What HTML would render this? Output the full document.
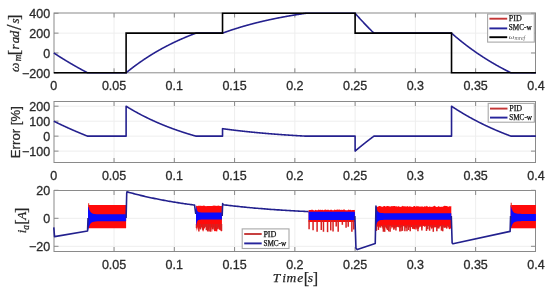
<!DOCTYPE html><html><head><meta charset="utf-8"><style>html,body{margin:0;padding:0;background:#fff;overflow:hidden}svg{display:block;filter:blur(0.3px)}</style></head><body><svg width="550" height="291" viewBox="0 0 550 291">
<rect width="550" height="291" fill="#fff"/>
<style>.tk{font-family:"Liberation Sans",Arial,sans-serif;font-size:12.5px;fill:#2b2b2b;stroke:#2b2b2b;stroke-width:0.3px}.lg{font-family:"Liberation Serif",serif;font-size:7.2px;fill:#151515;stroke:#151515;stroke-width:0.25px}.lx{font-family:"Liberation Serif",serif;font-size:13.7px;fill:#262626;stroke:#262626;stroke-width:0.25px}.ly{font-family:"Liberation Sans",Arial,sans-serif;font-size:13px;fill:#2b2b2b;stroke:#2b2b2b;stroke-width:0.25px}</style>
<line x1="114.06" y1="13" x2="114.06" y2="72.8" stroke="#eeeeee" stroke-width="1"/>
<line x1="174.32" y1="13" x2="174.32" y2="72.8" stroke="#eeeeee" stroke-width="1"/>
<line x1="234.59" y1="13" x2="234.59" y2="72.8" stroke="#eeeeee" stroke-width="1"/>
<line x1="294.85" y1="13" x2="294.85" y2="72.8" stroke="#eeeeee" stroke-width="1"/>
<line x1="355.11" y1="13" x2="355.11" y2="72.8" stroke="#eeeeee" stroke-width="1"/>
<line x1="415.38" y1="13" x2="415.38" y2="72.8" stroke="#eeeeee" stroke-width="1"/>
<line x1="475.64" y1="13" x2="475.64" y2="72.8" stroke="#eeeeee" stroke-width="1"/>
<line x1="54" y1="33.13" x2="535.5" y2="33.13" stroke="#eeeeee" stroke-width="1"/>
<line x1="54" y1="52.97" x2="535.5" y2="52.97" stroke="#eeeeee" stroke-width="1"/>
<rect x="54" y="13" width="481.5" height="59.8" fill="none" stroke="#8a8a8a" stroke-width="1"/>
<line x1="114.06" y1="72.8" x2="114.06" y2="68.3" stroke="#8a8a8a"/>
<line x1="114.06" y1="13" x2="114.06" y2="17.5" stroke="#8a8a8a"/>
<line x1="174.32" y1="72.8" x2="174.32" y2="68.3" stroke="#8a8a8a"/>
<line x1="174.32" y1="13" x2="174.32" y2="17.5" stroke="#8a8a8a"/>
<line x1="234.59" y1="72.8" x2="234.59" y2="68.3" stroke="#8a8a8a"/>
<line x1="234.59" y1="13" x2="234.59" y2="17.5" stroke="#8a8a8a"/>
<line x1="294.85" y1="72.8" x2="294.85" y2="68.3" stroke="#8a8a8a"/>
<line x1="294.85" y1="13" x2="294.85" y2="17.5" stroke="#8a8a8a"/>
<line x1="355.11" y1="72.8" x2="355.11" y2="68.3" stroke="#8a8a8a"/>
<line x1="355.11" y1="13" x2="355.11" y2="17.5" stroke="#8a8a8a"/>
<line x1="415.38" y1="72.8" x2="415.38" y2="68.3" stroke="#8a8a8a"/>
<line x1="415.38" y1="13" x2="415.38" y2="17.5" stroke="#8a8a8a"/>
<line x1="475.64" y1="72.8" x2="475.64" y2="68.3" stroke="#8a8a8a"/>
<line x1="475.64" y1="13" x2="475.64" y2="17.5" stroke="#8a8a8a"/>
<line x1="54" y1="13.3" x2="58.5" y2="13.3" stroke="#8a8a8a"/>
<line x1="535.5" y1="13.3" x2="531" y2="13.3" stroke="#8a8a8a"/>
<line x1="54" y1="33.13" x2="58.5" y2="33.13" stroke="#8a8a8a"/>
<line x1="535.5" y1="33.13" x2="531" y2="33.13" stroke="#8a8a8a"/>
<line x1="54" y1="52.97" x2="58.5" y2="52.97" stroke="#8a8a8a"/>
<line x1="535.5" y1="52.97" x2="531" y2="52.97" stroke="#8a8a8a"/>
<line x1="54" y1="72.8" x2="58.5" y2="72.8" stroke="#8a8a8a"/>
<line x1="535.5" y1="72.8" x2="531" y2="72.8" stroke="#8a8a8a"/>
<polyline points="53.8,52.97 54.04,53.12 54.28,53.28 54.52,53.44 54.76,53.6 55.01,53.75 55.25,53.91 55.49,54.07 55.73,54.22 55.97,54.38 56.21,54.53 56.45,54.69 56.69,54.85 56.93,55 57.17,55.16 57.42,55.31 57.66,55.46 57.9,55.62 58.14,55.77 58.38,55.93 58.62,56.08 58.86,56.23 59.1,56.38 59.34,56.54 59.59,56.69 59.83,56.84 60.07,56.99 60.31,57.14 60.55,57.3 60.79,57.45 61.03,57.6 61.27,57.75 61.51,57.9 61.75,58.05 62,58.2 62.24,58.35 62.48,58.5 62.72,58.65 62.96,58.8 63.2,58.94 63.44,59.09 63.68,59.24 63.92,59.39 64.17,59.54 64.41,59.68 64.65,59.83 64.89,59.98 65.13,60.12 65.37,60.27 65.61,60.42 65.85,60.56 66.09,60.71 66.33,60.85 66.58,61 66.82,61.15 67.06,61.29 67.3,61.44 67.54,61.58 67.78,61.72 68.02,61.87 68.26,62.01 68.5,62.16 68.75,62.3 68.99,62.44 69.23,62.58 69.47,62.73 69.71,62.87 69.95,63.01 70.19,63.15 70.43,63.3 70.67,63.44 70.91,63.58 71.16,63.72 71.4,63.86 71.64,64 71.88,64.14 72.12,64.28 72.36,64.42 72.6,64.56 72.84,64.7 73.08,64.84 73.33,64.98 73.57,65.12 73.81,65.26 74.05,65.39 74.29,65.53 74.53,65.67 74.77,65.81 75.01,65.95 75.25,66.08 75.49,66.22 75.74,66.36 75.98,66.49 76.22,66.63 76.46,66.77 76.7,66.9 76.94,67.04 77.18,67.17 77.42,67.31 77.66,67.44 77.91,67.58 78.15,67.71 78.39,67.85 78.63,67.98 78.87,68.12 79.11,68.25 79.35,68.38 79.59,68.52 79.83,68.65 80.07,68.78 80.32,68.92 80.56,69.05 80.8,69.18 81.04,69.31 81.28,69.44 81.52,69.58 81.76,69.71 82,69.84 82.24,69.97 82.48,70.1 82.73,70.23 82.97,70.36 83.21,70.49 83.45,70.62 83.69,70.75 83.93,70.88 84.17,71.01 84.41,71.14 84.65,71.27 84.9,71.4 85.14,71.53 85.38,71.66 85.62,71.78 85.86,71.91 86.1,72.04 86.34,72.17 86.58,72.29 86.82,72.42 87.06,72.55 87.31,72.67 87.55,72.8 87.79,72.8 88.03,72.8 88.27,72.8 88.51,72.8 88.75,72.8 88.99,72.8 89.23,72.8 89.48,72.8 89.72,72.8 89.96,72.8 90.2,72.8 90.44,72.8 90.68,72.8 90.92,72.8 91.16,72.8 91.4,72.8 91.64,72.8 91.89,72.8 92.13,72.8 92.37,72.8 92.61,72.8 92.85,72.8 93.09,72.8 93.33,72.8 93.57,72.8 93.81,72.8 94.06,72.8 94.3,72.8 94.54,72.8 94.78,72.8 95.02,72.8 95.26,72.8 95.5,72.8 95.74,72.8 95.98,72.8 96.22,72.8 96.47,72.8 96.71,72.8 96.95,72.8 97.19,72.8 97.43,72.8 97.67,72.8 97.91,72.8 98.15,72.8 98.39,72.8 98.64,72.8 98.88,72.8 99.12,72.8 99.36,72.8 99.6,72.8 99.84,72.8 100.08,72.8 100.32,72.8 100.56,72.8 100.8,72.8 101.05,72.8 101.29,72.8 101.53,72.8 101.77,72.8 102.01,72.8 102.25,72.8 102.49,72.8 102.73,72.8 102.97,72.8 103.22,72.8 103.46,72.8 103.7,72.8 103.94,72.8 104.18,72.8 104.42,72.8 104.66,72.8 104.9,72.8 105.14,72.8 105.38,72.8 105.63,72.8 105.87,72.8 106.11,72.8 106.35,72.8 106.59,72.8 106.83,72.8 107.07,72.8 107.31,72.8 107.55,72.8 107.8,72.8 108.04,72.8 108.28,72.8 108.52,72.8 108.76,72.8 109,72.8 109.24,72.8 109.48,72.8 109.72,72.8 109.96,72.8 110.21,72.8 110.45,72.8 110.69,72.8 110.93,72.8 111.17,72.8 111.41,72.8 111.65,72.8 111.89,72.8 112.13,72.8 112.38,72.8 112.62,72.8 112.86,72.8 113.1,72.8 113.34,72.8 113.58,72.8 113.82,72.8 114.06,72.8 114.3,72.8 114.54,72.8 114.79,72.8 115.03,72.8 115.27,72.8 115.51,72.8 115.75,72.8 115.99,72.8 116.23,72.8 116.47,72.8 116.71,72.8 116.96,72.8 117.2,72.8 117.44,72.8 117.68,72.8 117.92,72.8 118.16,72.8 118.4,72.8 118.64,72.8 118.88,72.8 119.12,72.8 119.37,72.8 119.61,72.8 119.85,72.8 120.09,72.8 120.33,72.8 120.57,72.8 120.81,72.8 121.05,72.8 121.29,72.8 121.54,72.8 121.78,72.8 122.02,72.8 122.26,72.8 122.5,72.8 122.74,72.8 122.98,72.8 123.22,72.8 123.46,72.8 123.7,72.8 123.95,72.8 124.19,72.8 124.43,72.8 124.67,72.8 124.91,72.8 125.15,72.8 125.39,72.8 125.63,72.8 125.87,72.8 126.11,72.8 126.36,72.6 126.6,72.4 126.84,72.21 127.08,72.01 127.32,71.81 127.56,71.62 127.8,71.42 128.04,71.23 128.28,71.04 128.53,70.84 128.77,70.65 129.01,70.46 129.25,70.27 129.49,70.08 129.73,69.89 129.97,69.69 130.21,69.51 130.45,69.32 130.69,69.13 130.94,68.94 131.18,68.75 131.42,68.57 131.66,68.38 131.9,68.19 132.14,68.01 132.38,67.82 132.62,67.64 132.86,67.45 133.11,67.27 133.35,67.09 133.59,66.9 133.83,66.72 134.07,66.54 134.31,66.36 134.55,66.18 134.79,66 135.03,65.82 135.27,65.64 135.52,65.46 135.76,65.29 136,65.11 136.24,64.93 136.48,64.75 136.72,64.58 136.96,64.4 137.2,64.23 137.44,64.05 137.69,63.88 137.93,63.7 138.17,63.53 138.41,63.36 138.65,63.19 138.89,63.01 139.13,62.84 139.37,62.67 139.61,62.5 139.85,62.33 140.1,62.16 140.34,61.99 140.58,61.83 140.82,61.66 141.06,61.49 141.3,61.32 141.54,61.16 141.78,60.99 142.02,60.82 142.27,60.66 142.51,60.49 142.75,60.33 142.99,60.17 143.23,60 143.47,59.84 143.71,59.68 143.95,59.51 144.19,59.35 144.43,59.19 144.68,59.03 144.92,58.87 145.16,58.71 145.4,58.55 145.64,58.39 145.88,58.23 146.12,58.07 146.36,57.92 146.6,57.76 146.85,57.6 147.09,57.45 147.33,57.29 147.57,57.13 147.81,56.98 148.05,56.82 148.29,56.67 148.53,56.52 148.77,56.36 149.01,56.21 149.26,56.06 149.5,55.9 149.74,55.75 149.98,55.6 150.22,55.45 150.46,55.3 150.7,55.15 150.94,55 151.18,54.85 151.43,54.7 151.67,54.55 151.91,54.4 152.15,54.26 152.39,54.11 152.63,53.96 152.87,53.82 153.11,53.67 153.35,53.52 153.59,53.38 153.84,53.23 154.08,53.09 154.32,52.94 154.56,52.8 154.8,52.66 155.04,52.51 155.28,52.37 155.52,52.23 155.76,52.09 156.01,51.95 156.25,51.81 156.49,51.67 156.73,51.53 156.97,51.39 157.21,51.25 157.45,51.11 157.69,50.97 157.93,50.83 158.17,50.69 158.42,50.55 158.66,50.42 158.9,50.28 159.14,50.14 159.38,50.01 159.62,49.87 159.86,49.74 160.1,49.6 160.34,49.47 160.59,49.33 160.83,49.2 161.07,49.07 161.31,48.93 161.55,48.8 161.79,48.67 162.03,48.53 162.27,48.4 162.51,48.27 162.75,48.14 163,48.01 163.24,47.88 163.48,47.75 163.72,47.62 163.96,47.49 164.2,47.36 164.44,47.23 164.68,47.11 164.92,46.98 165.17,46.85 165.41,46.72 165.65,46.6 165.89,46.47 166.13,46.34 166.37,46.22 166.61,46.09 166.85,45.97 167.09,45.84 167.33,45.72 167.58,45.6 167.82,45.47 168.06,45.35 168.3,45.23 168.54,45.1 168.78,44.98 169.02,44.86 169.26,44.74 169.5,44.62 169.75,44.49 169.99,44.37 170.23,44.25 170.47,44.13 170.71,44.01 170.95,43.89 171.19,43.78 171.43,43.66 171.67,43.54 171.91,43.42 172.16,43.3 172.4,43.19 172.64,43.07 172.88,42.95 173.12,42.84 173.36,42.72 173.6,42.6 173.84,42.49 174.08,42.37 174.32,42.26 174.57,42.14 174.81,42.03 175.05,41.92 175.29,41.8 175.53,41.69 175.77,41.58 176.01,41.46 176.25,41.35 176.49,41.24 176.74,41.13 176.98,41.02 177.22,40.9 177.46,40.79 177.7,40.68 177.94,40.57 178.18,40.46 178.42,40.35 178.66,40.24 178.9,40.14 179.15,40.03 179.39,39.92 179.63,39.81 179.87,39.7 180.11,39.59 180.35,39.49 180.59,39.38 180.83,39.27 181.07,39.17 181.32,39.06 181.56,38.96 181.8,38.85 182.04,38.75 182.28,38.64 182.52,38.54 182.76,38.43 183,38.33 183.24,38.22 183.48,38.12 183.73,38.02 183.97,37.91 184.21,37.81 184.45,37.71 184.69,37.61 184.93,37.51 185.17,37.4 185.41,37.3 185.65,37.2 185.9,37.1 186.14,37 186.38,36.9 186.62,36.8 186.86,36.7 187.1,36.6 187.34,36.5 187.58,36.4 187.82,36.31 188.06,36.21 188.31,36.11 188.55,36.01 188.79,35.91 189.03,35.82 189.27,35.72 189.51,35.62 189.75,35.53 189.99,35.43 190.23,35.34 190.48,35.24 190.72,35.14 190.96,35.05 191.2,34.95 191.44,34.86 191.68,34.77 191.92,34.67 192.16,34.58 192.4,34.48 192.64,34.39 192.89,34.3 193.13,34.21 193.37,34.11 193.61,34.02 193.85,33.93 194.09,33.84 194.33,33.75 194.57,33.65 194.81,33.56 195.06,33.47 195.3,33.38 195.54,33.29 195.78,33.2 196.02,33.13 196.26,33.13 196.5,33.13 196.74,33.13 196.98,33.13 197.22,33.13 197.47,33.13 197.71,33.13 197.95,33.13 198.19,33.13 198.43,33.13 198.67,33.13 198.91,33.13 199.15,33.13 199.39,33.13 199.64,33.13 199.88,33.13 200.12,33.13 200.36,33.13 200.6,33.13 200.84,33.13 201.08,33.13 201.32,33.13 201.56,33.13 201.8,33.13 202.05,33.13 202.29,33.13 202.53,33.13 202.77,33.13 203.01,33.13 203.25,33.13 203.49,33.13 203.73,33.13 203.97,33.13 204.22,33.13 204.46,33.13 204.7,33.13 204.94,33.13 205.18,33.13 205.42,33.13 205.66,33.13 205.9,33.13 206.14,33.13 206.38,33.13 206.63,33.13 206.87,33.13 207.11,33.13 207.35,33.13 207.59,33.13 207.83,33.13 208.07,33.13 208.31,33.13 208.55,33.13 208.8,33.13 209.04,33.13 209.28,33.13 209.52,33.13 209.76,33.13 210,33.13 210.24,33.13 210.48,33.13 210.72,33.13 210.96,33.13 211.21,33.13 211.45,33.13 211.69,33.13 211.93,33.13 212.17,33.13 212.41,33.13 212.65,33.13 212.89,33.13 213.13,33.13 213.38,33.13 213.62,33.13 213.86,33.13 214.1,33.13 214.34,33.13 214.58,33.13 214.82,33.13 215.06,33.13 215.3,33.13 215.54,33.13 215.79,33.13 216.03,33.13 216.27,33.13 216.51,33.13 216.75,33.13 216.99,33.13 217.23,33.13 217.47,33.13 217.71,33.13 217.96,33.13 218.2,33.13 218.44,33.13 218.68,33.13 218.92,33.13 219.16,33.13 219.4,33.13 219.64,33.13 219.88,33.13 220.12,33.13 220.37,33.13 220.61,33.13 220.85,33.13 221.09,33.13 221.33,33.13 221.57,33.13 221.81,33.13 222.05,33.13 222.29,33.13 222.53,33.13 222.78,33.05 223.02,32.96 223.26,32.87 223.5,32.78 223.74,32.69 223.98,32.61 224.22,32.52 224.46,32.43 224.7,32.35 224.95,32.26 225.19,32.18 225.43,32.09 225.67,32 225.91,31.92 226.15,31.83 226.39,31.75 226.63,31.67 226.87,31.58 227.11,31.5 227.36,31.41 227.6,31.33 227.84,31.25 228.08,31.16 228.32,31.08 228.56,31 228.8,30.91 229.04,30.83 229.28,30.75 229.53,30.67 229.77,30.59 230.01,30.51 230.25,30.42 230.49,30.34 230.73,30.26 230.97,30.18 231.21,30.1 231.45,30.02 231.69,29.94 231.94,29.86 232.18,29.78 232.42,29.7 232.66,29.62 232.9,29.55 233.14,29.47 233.38,29.39 233.62,29.31 233.86,29.23 234.11,29.16 234.35,29.08 234.59,29 234.83,28.92 235.07,28.85 235.31,28.77 235.55,28.69 235.79,28.62 236.03,28.54 236.27,28.47 236.52,28.39 236.76,28.31 237,28.24 237.24,28.16 237.48,28.09 237.72,28.01 237.96,27.94 238.2,27.87 238.44,27.79 238.69,27.72 238.93,27.64 239.17,27.57 239.41,27.5 239.65,27.42 239.89,27.35 240.13,27.28 240.37,27.21 240.61,27.13 240.85,27.06 241.1,26.99 241.34,26.92 241.58,26.85 241.82,26.78 242.06,26.7 242.3,26.63 242.54,26.56 242.78,26.49 243.02,26.42 243.27,26.35 243.51,26.28 243.75,26.21 243.99,26.14 244.23,26.07 244.47,26 244.71,25.94 244.95,25.87 245.19,25.8 245.43,25.73 245.68,25.66 245.92,25.59 246.16,25.53 246.4,25.46 246.64,25.39 246.88,25.32 247.12,25.26 247.36,25.19 247.6,25.12 247.85,25.05 248.09,24.99 248.33,24.92 248.57,24.86 248.81,24.79 249.05,24.72 249.29,24.66 249.53,24.59 249.77,24.53 250.01,24.46 250.26,24.4 250.5,24.33 250.74,24.27 250.98,24.2 251.22,24.14 251.46,24.08 251.7,24.01 251.94,23.95 252.18,23.89 252.43,23.82 252.67,23.76 252.91,23.7 253.15,23.63 253.39,23.57 253.63,23.51 253.87,23.45 254.11,23.38 254.35,23.32 254.59,23.26 254.84,23.2 255.08,23.14 255.32,23.08 255.56,23.01 255.8,22.95 256.04,22.89 256.28,22.83 256.52,22.77 256.76,22.71 257.01,22.65 257.25,22.59 257.49,22.53 257.73,22.47 257.97,22.41 258.21,22.35 258.45,22.29 258.69,22.24 258.93,22.18 259.17,22.12 259.42,22.06 259.66,22 259.9,21.94 260.14,21.88 260.38,21.83 260.62,21.77 260.86,21.71 261.1,21.65 261.34,21.6 261.59,21.54 261.83,21.48 262.07,21.43 262.31,21.37 262.55,21.31 262.79,21.26 263.03,21.2 263.27,21.14 263.51,21.09 263.75,21.03 264,20.98 264.24,20.92 264.48,20.87 264.72,20.81 264.96,20.76 265.2,20.7 265.44,20.65 265.68,20.59 265.92,20.54 266.17,20.48 266.41,20.43 266.65,20.37 266.89,20.32 267.13,20.27 267.37,20.21 267.61,20.16 267.85,20.11 268.09,20.05 268.33,20 268.58,19.95 268.82,19.9 269.06,19.84 269.3,19.79 269.54,19.74 269.78,19.69 270.02,19.63 270.26,19.58 270.5,19.53 270.74,19.48 270.99,19.43 271.23,19.38 271.47,19.32 271.71,19.27 271.95,19.22 272.19,19.17 272.43,19.12 272.67,19.07 272.91,19.02 273.16,18.97 273.4,18.92 273.64,18.87 273.88,18.82 274.12,18.77 274.36,18.72 274.6,18.67 274.84,18.62 275.08,18.57 275.32,18.53 275.57,18.48 275.81,18.43 276.05,18.38 276.29,18.33 276.53,18.28 276.77,18.23 277.01,18.19 277.25,18.14 277.49,18.09 277.74,18.04 277.98,17.99 278.22,17.95 278.46,17.9 278.7,17.85 278.94,17.81 279.18,17.76 279.42,17.71 279.66,17.67 279.9,17.62 280.15,17.57 280.39,17.53 280.63,17.48 280.87,17.43 281.11,17.39 281.35,17.34 281.59,17.3 281.83,17.25 282.07,17.21 282.32,17.16 282.56,17.12 282.8,17.07 283.04,17.03 283.28,16.98 283.52,16.94 283.76,16.89 284,16.85 284.24,16.8 284.48,16.76 284.73,16.71 284.97,16.67 285.21,16.63 285.45,16.58 285.69,16.54 285.93,16.5 286.17,16.45 286.41,16.41 286.65,16.37 286.9,16.32 287.14,16.28 287.38,16.24 287.62,16.19 287.86,16.15 288.1,16.11 288.34,16.07 288.58,16.03 288.82,15.98 289.06,15.94 289.31,15.9 289.55,15.86 289.79,15.82 290.03,15.77 290.27,15.73 290.51,15.69 290.75,15.65 290.99,15.61 291.23,15.57 291.48,15.53 291.72,15.49 291.96,15.45 292.2,15.41 292.44,15.36 292.68,15.32 292.92,15.28 293.16,15.24 293.4,15.2 293.64,15.16 293.89,15.12 294.13,15.08 294.37,15.05 294.61,15.01 294.85,14.97 295.09,14.93 295.33,14.89 295.57,14.85 295.81,14.81 296.06,14.77 296.3,14.73 296.54,14.69 296.78,14.66 297.02,14.62 297.26,14.58 297.5,14.54 297.74,14.5 297.98,14.46 298.22,14.43 298.47,14.39 298.71,14.35 298.95,14.31 299.19,14.28 299.43,14.24 299.67,14.2 299.91,14.16 300.15,14.13 300.39,14.09 300.64,14.05 300.88,14.02 301.12,13.98 301.36,13.94 301.6,13.91 301.84,13.87 302.08,13.83 302.32,13.8 302.56,13.76 302.8,13.73 303.05,13.69 303.29,13.65 303.53,13.62 303.77,13.58 304.01,13.55 304.25,13.51 304.49,13.48 304.73,13.44 304.97,13.41 305.22,13.37 305.46,13.34 305.7,13.3 305.94,13.3 306.18,13.3 306.42,13.3 306.66,13.3 306.9,13.3 307.14,13.3 307.38,13.3 307.63,13.3 307.87,13.3 308.11,13.3 308.35,13.3 308.59,13.3 308.83,13.3 309.07,13.3 309.31,13.3 309.55,13.3 309.8,13.3 310.04,13.3 310.28,13.3 310.52,13.3 310.76,13.3 311,13.3 311.24,13.3 311.48,13.3 311.72,13.3 311.96,13.3 312.21,13.3 312.45,13.3 312.69,13.3 312.93,13.3 313.17,13.3 313.41,13.3 313.65,13.3 313.89,13.3 314.13,13.3 314.38,13.3 314.62,13.3 314.86,13.3 315.1,13.3 315.34,13.3 315.58,13.3 315.82,13.3 316.06,13.3 316.3,13.3 316.54,13.3 316.79,13.3 317.03,13.3 317.27,13.3 317.51,13.3 317.75,13.3 317.99,13.3 318.23,13.3 318.47,13.3 318.71,13.3 318.95,13.3 319.2,13.3 319.44,13.3 319.68,13.3 319.92,13.3 320.16,13.3 320.4,13.3 320.64,13.3 320.88,13.3 321.12,13.3 321.37,13.3 321.61,13.3 321.85,13.3 322.09,13.3 322.33,13.3 322.57,13.3 322.81,13.3 323.05,13.3 323.29,13.3 323.53,13.3 323.78,13.3 324.02,13.3 324.26,13.3 324.5,13.3 324.74,13.3 324.98,13.3 325.22,13.3 325.46,13.3 325.7,13.3 325.95,13.3 326.19,13.3 326.43,13.3 326.67,13.3 326.91,13.3 327.15,13.3 327.39,13.3 327.63,13.3 327.87,13.3 328.11,13.3 328.36,13.3 328.6,13.3 328.84,13.3 329.08,13.3 329.32,13.3 329.56,13.3 329.8,13.3 330.04,13.3 330.28,13.3 330.53,13.3 330.77,13.3 331.01,13.3 331.25,13.3 331.49,13.3 331.73,13.3 331.97,13.3 332.21,13.3 332.45,13.3 332.69,13.3 332.94,13.3 333.18,13.3 333.42,13.3 333.66,13.3 333.9,13.3 334.14,13.3 334.38,13.3 334.62,13.3 334.86,13.3 335.11,13.3 335.35,13.3 335.59,13.3 335.83,13.3 336.07,13.3 336.31,13.3 336.55,13.3 336.79,13.3 337.03,13.3 337.27,13.3 337.52,13.3 337.76,13.3 338,13.3 338.24,13.3 338.48,13.3 338.72,13.3 338.96,13.3 339.2,13.3 339.44,13.3 339.69,13.3 339.93,13.3 340.17,13.3 340.41,13.3 340.65,13.3 340.89,13.3 341.13,13.3 341.37,13.3 341.61,13.3 341.85,13.3 342.1,13.3 342.34,13.3 342.58,13.3 342.82,13.3 343.06,13.3 343.3,13.3 343.54,13.3 343.78,13.3 344.02,13.3 344.27,13.3 344.51,13.3 344.75,13.3 344.99,13.3 345.23,13.3 345.47,13.3 345.71,13.3 345.95,13.3 346.19,13.3 346.43,13.3 346.68,13.3 346.92,13.3 347.16,13.3 347.4,13.3 347.64,13.3 347.88,13.3 348.12,13.3 348.36,13.3 348.6,13.3 348.85,13.3 349.09,13.3 349.33,13.3 349.57,13.3 349.81,13.3 350.05,13.3 350.29,13.3 350.53,13.3 350.77,13.3 351.01,13.3 351.26,13.3 351.5,13.3 351.74,13.3 351.98,13.3 352.22,13.3 352.46,13.3 352.7,13.3 352.94,13.3 353.18,13.3 353.43,13.3 353.67,13.3 353.91,13.3 354.15,13.3 354.39,13.3 354.63,13.3 354.87,13.3 355.11,13.3 355.35,13.57 355.59,13.85 355.84,14.12 356.08,14.39 356.32,14.66 356.56,14.94 356.8,15.21 357.04,15.48 357.28,15.75 357.52,16.02 357.76,16.29 358.01,16.55 358.25,16.82 358.49,17.09 358.73,17.35 358.97,17.62 359.21,17.89 359.45,18.15 359.69,18.42 359.93,18.68 360.17,18.94 360.42,19.21 360.66,19.47 360.9,19.73 361.14,19.99 361.38,20.25 361.62,20.51 361.86,20.77 362.1,21.03 362.34,21.29 362.59,21.55 362.83,21.81 363.07,22.06 363.31,22.32 363.55,22.58 363.79,22.83 364.03,23.09 364.27,23.34 364.51,23.6 364.75,23.85 365,24.1 365.24,24.36 365.48,24.61 365.72,24.86 365.96,25.11 366.2,25.36 366.44,25.61 366.68,25.86 366.92,26.11 367.16,26.36 367.41,26.61 367.65,26.86 367.89,27.1 368.13,27.35 368.37,27.6 368.61,27.84 368.85,28.09 369.09,28.33 369.33,28.58 369.58,28.82 369.82,29.07 370.06,29.31 370.3,29.55 370.54,29.79 370.78,30.03 371.02,30.28 371.26,30.52 371.5,30.76 371.74,31 371.99,31.23 372.23,31.47 372.47,31.71 372.71,31.95 372.95,32.19 373.19,32.42 373.43,32.66 373.67,32.9 373.91,33.13 374.16,33.13 374.4,33.13 374.64,33.13 374.88,33.13 375.12,33.13 375.36,33.13 375.6,33.13 375.84,33.13 376.08,33.13 376.32,33.13 376.57,33.13 376.81,33.13 377.05,33.13 377.29,33.13 377.53,33.13 377.77,33.13 378.01,33.13 378.25,33.13 378.49,33.13 378.74,33.13 378.98,33.13 379.22,33.13 379.46,33.13 379.7,33.13 379.94,33.13 380.18,33.13 380.42,33.13 380.66,33.13 380.9,33.13 381.15,33.13 381.39,33.13 381.63,33.13 381.87,33.13 382.11,33.13 382.35,33.13 382.59,33.13 382.83,33.13 383.07,33.13 383.32,33.13 383.56,33.13 383.8,33.13 384.04,33.13 384.28,33.13 384.52,33.13 384.76,33.13 385,33.13 385.24,33.13 385.48,33.13 385.73,33.13 385.97,33.13 386.21,33.13 386.45,33.13 386.69,33.13 386.93,33.13 387.17,33.13 387.41,33.13 387.65,33.13 387.9,33.13 388.14,33.13 388.38,33.13 388.62,33.13 388.86,33.13 389.1,33.13 389.34,33.13 389.58,33.13 389.82,33.13 390.06,33.13 390.31,33.13 390.55,33.13 390.79,33.13 391.03,33.13 391.27,33.13 391.51,33.13 391.75,33.13 391.99,33.13 392.23,33.13 392.48,33.13 392.72,33.13 392.96,33.13 393.2,33.13 393.44,33.13 393.68,33.13 393.92,33.13 394.16,33.13 394.4,33.13 394.64,33.13 394.89,33.13 395.13,33.13 395.37,33.13 395.61,33.13 395.85,33.13 396.09,33.13 396.33,33.13 396.57,33.13 396.81,33.13 397.06,33.13 397.3,33.13 397.54,33.13 397.78,33.13 398.02,33.13 398.26,33.13 398.5,33.13 398.74,33.13 398.98,33.13 399.22,33.13 399.47,33.13 399.71,33.13 399.95,33.13 400.19,33.13 400.43,33.13 400.67,33.13 400.91,33.13 401.15,33.13 401.39,33.13 401.64,33.13 401.88,33.13 402.12,33.13 402.36,33.13 402.6,33.13 402.84,33.13 403.08,33.13 403.32,33.13 403.56,33.13 403.8,33.13 404.05,33.13 404.29,33.13 404.53,33.13 404.77,33.13 405.01,33.13 405.25,33.13 405.49,33.13 405.73,33.13 405.97,33.13 406.22,33.13 406.46,33.13 406.7,33.13 406.94,33.13 407.18,33.13 407.42,33.13 407.66,33.13 407.9,33.13 408.14,33.13 408.38,33.13 408.63,33.13 408.87,33.13 409.11,33.13 409.35,33.13 409.59,33.13 409.83,33.13 410.07,33.13 410.31,33.13 410.55,33.13 410.8,33.13 411.04,33.13 411.28,33.13 411.52,33.13 411.76,33.13 412,33.13 412.24,33.13 412.48,33.13 412.72,33.13 412.96,33.13 413.21,33.13 413.45,33.13 413.69,33.13 413.93,33.13 414.17,33.13 414.41,33.13 414.65,33.13 414.89,33.13 415.13,33.13 415.38,33.13 415.62,33.13 415.86,33.13 416.1,33.13 416.34,33.13 416.58,33.13 416.82,33.13 417.06,33.13 417.3,33.13 417.54,33.13 417.79,33.13 418.03,33.13 418.27,33.13 418.51,33.13 418.75,33.13 418.99,33.13 419.23,33.13 419.47,33.13 419.71,33.13 419.95,33.13 420.2,33.13 420.44,33.13 420.68,33.13 420.92,33.13 421.16,33.13 421.4,33.13 421.64,33.13 421.88,33.13 422.12,33.13 422.37,33.13 422.61,33.13 422.85,33.13 423.09,33.13 423.33,33.13 423.57,33.13 423.81,33.13 424.05,33.13 424.29,33.13 424.53,33.13 424.78,33.13 425.02,33.13 425.26,33.13 425.5,33.13 425.74,33.13 425.98,33.13 426.22,33.13 426.46,33.13 426.7,33.13 426.95,33.13 427.19,33.13 427.43,33.13 427.67,33.13 427.91,33.13 428.15,33.13 428.39,33.13 428.63,33.13 428.87,33.13 429.11,33.13 429.36,33.13 429.6,33.13 429.84,33.13 430.08,33.13 430.32,33.13 430.56,33.13 430.8,33.13 431.04,33.13 431.28,33.13 431.53,33.13 431.77,33.13 432.01,33.13 432.25,33.13 432.49,33.13 432.73,33.13 432.97,33.13 433.21,33.13 433.45,33.13 433.69,33.13 433.94,33.13 434.18,33.13 434.42,33.13 434.66,33.13 434.9,33.13 435.14,33.13 435.38,33.13 435.62,33.13 435.86,33.13 436.11,33.13 436.35,33.13 436.59,33.13 436.83,33.13 437.07,33.13 437.31,33.13 437.55,33.13 437.79,33.13 438.03,33.13 438.27,33.13 438.52,33.13 438.76,33.13 439,33.13 439.24,33.13 439.48,33.13 439.72,33.13 439.96,33.13 440.2,33.13 440.44,33.13 440.69,33.13 440.93,33.13 441.17,33.13 441.41,33.13 441.65,33.13 441.89,33.13 442.13,33.13 442.37,33.13 442.61,33.13 442.85,33.13 443.1,33.13 443.34,33.13 443.58,33.13 443.82,33.13 444.06,33.13 444.3,33.13 444.54,33.13 444.78,33.13 445.02,33.13 445.27,33.13 445.51,33.13 445.75,33.13 445.99,33.13 446.23,33.13 446.47,33.13 446.71,33.13 446.95,33.13 447.19,33.13 447.43,33.13 447.68,33.13 447.92,33.13 448.16,33.13 448.4,33.13 448.64,33.13 448.88,33.13 449.12,33.13 449.36,33.13 449.6,33.13 449.85,33.13 450.09,33.13 450.33,33.13 450.57,33.13 450.81,33.13 451.05,33.13 451.29,33.13 451.53,33.13 451.77,33.35 452.01,33.56 452.26,33.77 452.5,33.98 452.74,34.19 452.98,34.4 453.22,34.61 453.46,34.82 453.7,35.03 453.94,35.24 454.18,35.44 454.43,35.65 454.67,35.86 454.91,36.06 455.15,36.27 455.39,36.47 455.63,36.68 455.87,36.88 456.11,37.09 456.35,37.29 456.59,37.49 456.84,37.69 457.08,37.9 457.32,38.1 457.56,38.3 457.8,38.5 458.04,38.7 458.28,38.9 458.52,39.1 458.76,39.29 459.01,39.49 459.25,39.69 459.49,39.89 459.73,40.08 459.97,40.28 460.21,40.47 460.45,40.67 460.69,40.86 460.93,41.06 461.17,41.25 461.42,41.44 461.66,41.64 461.9,41.83 462.14,42.02 462.38,42.21 462.62,42.4 462.86,42.59 463.1,42.78 463.34,42.97 463.58,43.16 463.83,43.35 464.07,43.54 464.31,43.73 464.55,43.91 464.79,44.1 465.03,44.29 465.27,44.47 465.51,44.66 465.75,44.84 466,45.03 466.24,45.21 466.48,45.4 466.72,45.58 466.96,45.76 467.2,45.95 467.44,46.13 467.68,46.31 467.92,46.49 468.16,46.67 468.41,46.85 468.65,47.03 468.89,47.21 469.13,47.39 469.37,47.57 469.61,47.75 469.85,47.92 470.09,48.1 470.33,48.28 470.58,48.45 470.82,48.63 471.06,48.81 471.3,48.98 471.54,49.16 471.78,49.33 472.02,49.5 472.26,49.68 472.5,49.85 472.74,50.02 472.99,50.2 473.23,50.37 473.47,50.54 473.71,50.71 473.95,50.88 474.19,51.05 474.43,51.22 474.67,51.39 474.91,51.56 475.16,51.73 475.4,51.9 475.64,52.06 475.88,52.23 476.12,52.4 476.36,52.57 476.6,52.73 476.84,52.9 477.08,53.06 477.32,53.23 477.57,53.39 477.81,53.56 478.05,53.72 478.29,53.88 478.53,54.05 478.77,54.21 479.01,54.37 479.25,54.53 479.49,54.7 479.74,54.86 479.98,55.02 480.22,55.18 480.46,55.34 480.7,55.5 480.94,55.66 481.18,55.82 481.42,55.97 481.66,56.13 481.9,56.29 482.15,56.45 482.39,56.61 482.63,56.76 482.87,56.92 483.11,57.07 483.35,57.23 483.59,57.38 483.83,57.54 484.07,57.69 484.32,57.85 484.56,58 484.8,58.15 485.04,58.31 485.28,58.46 485.52,58.61 485.76,58.76 486,58.92 486.24,59.07 486.48,59.22 486.73,59.37 486.97,59.52 487.21,59.67 487.45,59.82 487.69,59.97 487.93,60.11 488.17,60.26 488.41,60.41 488.65,60.56 488.9,60.71 489.14,60.85 489.38,61 489.62,61.15 489.86,61.29 490.1,61.44 490.34,61.58 490.58,61.73 490.82,61.87 491.06,62.01 491.31,62.16 491.55,62.3 491.79,62.45 492.03,62.59 492.27,62.73 492.51,62.87 492.75,63.01 492.99,63.16 493.23,63.3 493.48,63.44 493.72,63.58 493.96,63.72 494.2,63.86 494.44,64 494.68,64.14 494.92,64.27 495.16,64.41 495.4,64.55 495.64,64.69 495.89,64.83 496.13,64.96 496.37,65.1 496.61,65.24 496.85,65.37 497.09,65.51 497.33,65.64 497.57,65.78 497.81,65.91 498.06,66.05 498.3,66.18 498.54,66.32 498.78,66.45 499.02,66.58 499.26,66.72 499.5,66.85 499.74,66.98 499.98,67.11 500.22,67.24 500.47,67.37 500.71,67.51 500.95,67.64 501.19,67.77 501.43,67.9 501.67,68.03 501.91,68.16 502.15,68.29 502.39,68.41 502.64,68.54 502.88,68.67 503.12,68.8 503.36,68.93 503.6,69.05 503.84,69.18 504.08,69.31 504.32,69.43 504.56,69.56 504.8,69.69 505.05,69.81 505.29,69.94 505.53,70.06 505.77,70.19 506.01,70.31 506.25,70.43 506.49,70.56 506.73,70.68 506.97,70.8 507.22,70.93 507.46,71.05 507.7,71.17 507.94,71.29 508.18,71.42 508.42,71.54 508.66,71.66 508.9,71.78 509.14,71.9 509.38,72.02 509.63,72.14 509.87,72.26 510.11,72.38 510.35,72.5 510.59,72.62 510.83,72.73 511.07,72.8 511.31,72.8 511.55,72.8 511.79,72.8 512.04,72.8 512.28,72.8 512.52,72.8 512.76,72.8 513,72.8 513.24,72.8 513.48,72.8 513.72,72.8 513.96,72.8 514.21,72.8 514.45,72.8 514.69,72.8 514.93,72.8 515.17,72.8 515.41,72.8 515.65,72.8 515.89,72.8 516.13,72.8 516.37,72.8 516.62,72.8 516.86,72.8 517.1,72.8 517.34,72.8 517.58,72.8 517.82,72.8 518.06,72.8 518.3,72.8 518.54,72.8 518.79,72.8 519.03,72.8 519.27,72.8 519.51,72.8 519.75,72.8 519.99,72.8 520.23,72.8 520.47,72.8 520.71,72.8 520.95,72.8 521.2,72.8 521.44,72.8 521.68,72.8 521.92,72.8 522.16,72.8 522.4,72.8 522.64,72.8 522.88,72.8 523.12,72.8 523.37,72.8 523.61,72.8 523.85,72.8 524.09,72.8 524.33,72.8 524.57,72.8 524.81,72.8 525.05,72.8 525.29,72.8 525.53,72.8 525.78,72.8 526.02,72.8 526.26,72.8 526.5,72.8 526.74,72.8 526.98,72.8 527.22,72.8 527.46,72.8 527.7,72.8 527.95,72.8 528.19,72.8 528.43,72.8 528.67,72.8 528.91,72.8 529.15,72.8 529.39,72.8 529.63,72.8 529.87,72.8 530.11,72.8 530.36,72.8 530.6,72.8 530.84,72.8 531.08,72.8 531.32,72.8 531.56,72.8 531.8,72.8 532.04,72.8 532.28,72.8 532.53,72.8 532.77,72.8 533.01,72.8 533.25,72.8 533.49,72.8 533.73,72.8 533.97,72.8 534.21,72.8 534.45,72.8 534.69,72.8 534.94,72.8 535.18,72.8 535.42,72.8 535.66,72.8 535.9,72.8" fill="none" stroke="#24208e" stroke-width="1.6" stroke-linejoin="round"/>
<polyline points="53.8,72.8 126.11,72.8 126.11,33.13 222.53,33.13 222.53,13.3 355.11,13.3 355.11,33.13 451.53,33.13 451.53,72.8 535.9,72.8" fill="none" stroke="#000" stroke-width="1.6"/>
<text x="53.8" y="89.8" text-anchor="middle" class="tk">0</text>
<text x="114.06" y="89.8" text-anchor="middle" class="tk">0.05</text>
<text x="174.32" y="89.8" text-anchor="middle" class="tk">0.1</text>
<text x="234.59" y="89.8" text-anchor="middle" class="tk">0.15</text>
<text x="294.85" y="89.8" text-anchor="middle" class="tk">0.2</text>
<text x="355.11" y="89.8" text-anchor="middle" class="tk">0.25</text>
<text x="415.38" y="89.8" text-anchor="middle" class="tk">0.3</text>
<text x="475.64" y="89.8" text-anchor="middle" class="tk">0.35</text>
<text x="535.9" y="89.8" text-anchor="middle" class="tk">0.4</text>
<text x="50.2" y="18.3" text-anchor="end" class="tk">400</text>
<text x="50.2" y="38.13" text-anchor="end" class="tk">200</text>
<text x="50.2" y="57.97" text-anchor="end" class="tk">0</text>
<text x="50.2" y="77.8" text-anchor="end" class="tk">−200</text>
<line x1="114.06" y1="101.5" x2="114.06" y2="162.5" stroke="#eeeeee" stroke-width="1"/>
<line x1="174.32" y1="101.5" x2="174.32" y2="162.5" stroke="#eeeeee" stroke-width="1"/>
<line x1="234.59" y1="101.5" x2="234.59" y2="162.5" stroke="#eeeeee" stroke-width="1"/>
<line x1="294.85" y1="101.5" x2="294.85" y2="162.5" stroke="#eeeeee" stroke-width="1"/>
<line x1="355.11" y1="101.5" x2="355.11" y2="162.5" stroke="#eeeeee" stroke-width="1"/>
<line x1="415.38" y1="101.5" x2="415.38" y2="162.5" stroke="#eeeeee" stroke-width="1"/>
<line x1="475.64" y1="101.5" x2="475.64" y2="162.5" stroke="#eeeeee" stroke-width="1"/>
<line x1="54" y1="106.21" x2="535.5" y2="106.21" stroke="#eeeeee" stroke-width="1"/>
<line x1="54" y1="121.18" x2="535.5" y2="121.18" stroke="#eeeeee" stroke-width="1"/>
<line x1="54" y1="136.15" x2="535.5" y2="136.15" stroke="#eeeeee" stroke-width="1"/>
<line x1="54" y1="151.12" x2="535.5" y2="151.12" stroke="#eeeeee" stroke-width="1"/>
<rect x="54" y="101.5" width="481.5" height="61" fill="none" stroke="#8a8a8a" stroke-width="1"/>
<line x1="114.06" y1="162.5" x2="114.06" y2="158" stroke="#8a8a8a"/>
<line x1="114.06" y1="101.5" x2="114.06" y2="106" stroke="#8a8a8a"/>
<line x1="174.32" y1="162.5" x2="174.32" y2="158" stroke="#8a8a8a"/>
<line x1="174.32" y1="101.5" x2="174.32" y2="106" stroke="#8a8a8a"/>
<line x1="234.59" y1="162.5" x2="234.59" y2="158" stroke="#8a8a8a"/>
<line x1="234.59" y1="101.5" x2="234.59" y2="106" stroke="#8a8a8a"/>
<line x1="294.85" y1="162.5" x2="294.85" y2="158" stroke="#8a8a8a"/>
<line x1="294.85" y1="101.5" x2="294.85" y2="106" stroke="#8a8a8a"/>
<line x1="355.11" y1="162.5" x2="355.11" y2="158" stroke="#8a8a8a"/>
<line x1="355.11" y1="101.5" x2="355.11" y2="106" stroke="#8a8a8a"/>
<line x1="415.38" y1="162.5" x2="415.38" y2="158" stroke="#8a8a8a"/>
<line x1="415.38" y1="101.5" x2="415.38" y2="106" stroke="#8a8a8a"/>
<line x1="475.64" y1="162.5" x2="475.64" y2="158" stroke="#8a8a8a"/>
<line x1="475.64" y1="101.5" x2="475.64" y2="106" stroke="#8a8a8a"/>
<line x1="54" y1="106.21" x2="58.5" y2="106.21" stroke="#8a8a8a"/>
<line x1="535.5" y1="106.21" x2="531" y2="106.21" stroke="#8a8a8a"/>
<line x1="54" y1="121.18" x2="58.5" y2="121.18" stroke="#8a8a8a"/>
<line x1="535.5" y1="121.18" x2="531" y2="121.18" stroke="#8a8a8a"/>
<line x1="54" y1="136.15" x2="58.5" y2="136.15" stroke="#8a8a8a"/>
<line x1="535.5" y1="136.15" x2="531" y2="136.15" stroke="#8a8a8a"/>
<line x1="54" y1="151.12" x2="58.5" y2="151.12" stroke="#8a8a8a"/>
<line x1="535.5" y1="151.12" x2="531" y2="151.12" stroke="#8a8a8a"/>
<polyline points="53.8,121.18 54.04,121.3 54.28,121.42 54.52,121.54 54.76,121.66 55.01,121.77 55.25,121.89 55.49,122.01 55.73,122.13 55.97,122.25 56.21,122.36 56.45,122.48 56.69,122.6 56.93,122.72 57.17,122.83 57.42,122.95 57.66,123.06 57.9,123.18 58.14,123.3 58.38,123.41 58.62,123.53 58.86,123.64 59.1,123.76 59.34,123.87 59.59,123.99 59.83,124.1 60.07,124.22 60.31,124.33 60.55,124.45 60.79,124.56 61.03,124.68 61.27,124.79 61.51,124.9 61.75,125.02 62,125.13 62.24,125.24 62.48,125.35 62.72,125.47 62.96,125.58 63.2,125.69 63.44,125.8 63.68,125.92 63.92,126.03 64.17,126.14 64.41,126.25 64.65,126.36 64.89,126.47 65.13,126.58 65.37,126.69 65.61,126.8 65.85,126.91 66.09,127.02 66.33,127.13 66.58,127.24 66.82,127.35 67.06,127.46 67.3,127.57 67.54,127.68 67.78,127.79 68.02,127.9 68.26,128.01 68.5,128.12 68.75,128.22 68.99,128.33 69.23,128.44 69.47,128.55 69.71,128.65 69.95,128.76 70.19,128.87 70.43,128.98 70.67,129.08 70.91,129.19 71.16,129.3 71.4,129.4 71.64,129.51 71.88,129.61 72.12,129.72 72.36,129.83 72.6,129.93 72.84,130.04 73.08,130.14 73.33,130.25 73.57,130.35 73.81,130.46 74.05,130.56 74.29,130.66 74.53,130.77 74.77,130.87 75.01,130.98 75.25,131.08 75.49,131.18 75.74,131.29 75.98,131.39 76.22,131.49 76.46,131.6 76.7,131.7 76.94,131.8 77.18,131.9 77.42,132 77.66,132.11 77.91,132.21 78.15,132.31 78.39,132.41 78.63,132.51 78.87,132.61 79.11,132.72 79.35,132.82 79.59,132.92 79.83,133.02 80.07,133.12 80.32,133.22 80.56,133.32 80.8,133.42 81.04,133.52 81.28,133.62 81.52,133.72 81.76,133.82 82,133.91 82.24,134.01 82.48,134.11 82.73,134.21 82.97,134.31 83.21,134.41 83.45,134.51 83.69,134.6 83.93,134.7 84.17,134.8 84.41,134.9 84.65,134.99 84.9,135.09 85.14,135.19 85.38,135.29 85.62,135.38 85.86,135.48 86.1,135.58 86.34,135.67 86.58,135.77 86.82,135.86 87.06,135.96 87.31,136.06 87.55,136.15 87.79,136.15 88.03,136.15 88.27,136.15 88.51,136.15 88.75,136.15 88.99,136.15 89.23,136.15 89.48,136.15 89.72,136.15 89.96,136.15 90.2,136.15 90.44,136.15 90.68,136.15 90.92,136.15 91.16,136.15 91.4,136.15 91.64,136.15 91.89,136.15 92.13,136.15 92.37,136.15 92.61,136.15 92.85,136.15 93.09,136.15 93.33,136.15 93.57,136.15 93.81,136.15 94.06,136.15 94.3,136.15 94.54,136.15 94.78,136.15 95.02,136.15 95.26,136.15 95.5,136.15 95.74,136.15 95.98,136.15 96.22,136.15 96.47,136.15 96.71,136.15 96.95,136.15 97.19,136.15 97.43,136.15 97.67,136.15 97.91,136.15 98.15,136.15 98.39,136.15 98.64,136.15 98.88,136.15 99.12,136.15 99.36,136.15 99.6,136.15 99.84,136.15 100.08,136.15 100.32,136.15 100.56,136.15 100.8,136.15 101.05,136.15 101.29,136.15 101.53,136.15 101.77,136.15 102.01,136.15 102.25,136.15 102.49,136.15 102.73,136.15 102.97,136.15 103.22,136.15 103.46,136.15 103.7,136.15 103.94,136.15 104.18,136.15 104.42,136.15 104.66,136.15 104.9,136.15 105.14,136.15 105.38,136.15 105.63,136.15 105.87,136.15 106.11,136.15 106.35,136.15 106.59,136.15 106.83,136.15 107.07,136.15 107.31,136.15 107.55,136.15 107.8,136.15 108.04,136.15 108.28,136.15 108.52,136.15 108.76,136.15 109,136.15 109.24,136.15 109.48,136.15 109.72,136.15 109.96,136.15 110.21,136.15 110.45,136.15 110.69,136.15 110.93,136.15 111.17,136.15 111.41,136.15 111.65,136.15 111.89,136.15 112.13,136.15 112.38,136.15 112.62,136.15 112.86,136.15 113.1,136.15 113.34,136.15 113.58,136.15 113.82,136.15 114.06,136.15 114.3,136.15 114.54,136.15 114.79,136.15 115.03,136.15 115.27,136.15 115.51,136.15 115.75,136.15 115.99,136.15 116.23,136.15 116.47,136.15 116.71,136.15 116.96,136.15 117.2,136.15 117.44,136.15 117.68,136.15 117.92,136.15 118.16,136.15 118.4,136.15 118.64,136.15 118.88,136.15 119.12,136.15 119.37,136.15 119.61,136.15 119.85,136.15 120.09,136.15 120.33,136.15 120.57,136.15 120.81,136.15 121.05,136.15 121.29,136.15 121.54,136.15 121.78,136.15 122.02,136.15 122.26,136.15 122.5,136.15 122.74,136.15 122.98,136.15 123.22,136.15 123.46,136.15 123.7,136.15 123.95,136.15 124.19,136.15 124.43,136.15 124.67,136.15 124.91,136.15 125.15,136.15 125.39,136.15 125.63,136.15 125.87,136.15 126.11,136.15 126.11,106.21 126.36,106.36 126.6,106.51 126.84,106.66 127.08,106.81 127.32,106.95 127.56,107.1 127.8,107.25 128.04,107.39 128.28,107.54 128.53,107.69 128.77,107.83 129.01,107.98 129.25,108.12 129.49,108.27 129.73,108.41 129.97,108.55 130.21,108.7 130.45,108.84 130.69,108.98 130.94,109.12 131.18,109.27 131.42,109.41 131.66,109.55 131.9,109.69 132.14,109.83 132.38,109.97 132.62,110.11 132.86,110.25 133.11,110.38 133.35,110.52 133.59,110.66 133.83,110.8 134.07,110.93 134.31,111.07 134.55,111.21 134.79,111.34 135.03,111.48 135.27,111.61 135.52,111.75 135.76,111.88 136,112.02 136.24,112.15 136.48,112.28 136.72,112.42 136.96,112.55 137.2,112.68 137.44,112.81 137.69,112.94 137.93,113.07 138.17,113.21 138.41,113.34 138.65,113.47 138.89,113.6 139.13,113.72 139.37,113.85 139.61,113.98 139.85,114.11 140.1,114.24 140.34,114.37 140.58,114.49 140.82,114.62 141.06,114.75 141.3,114.87 141.54,115 141.78,115.12 142.02,115.25 142.27,115.37 142.51,115.5 142.75,115.62 142.99,115.75 143.23,115.87 143.47,115.99 143.71,116.12 143.95,116.24 144.19,116.36 144.43,116.48 144.68,116.6 144.92,116.72 145.16,116.84 145.4,116.97 145.64,117.09 145.88,117.21 146.12,117.32 146.36,117.44 146.6,117.56 146.85,117.68 147.09,117.8 147.33,117.92 147.57,118.03 147.81,118.15 148.05,118.27 148.29,118.38 148.53,118.5 148.77,118.62 149.01,118.73 149.26,118.85 149.5,118.96 149.74,119.08 149.98,119.19 150.22,119.31 150.46,119.42 150.7,119.53 150.94,119.65 151.18,119.76 151.43,119.87 151.67,119.98 151.91,120.09 152.15,120.21 152.39,120.32 152.63,120.43 152.87,120.54 153.11,120.65 153.35,120.76 153.59,120.87 153.84,120.98 154.08,121.09 154.32,121.2 154.56,121.3 154.8,121.41 155.04,121.52 155.28,121.63 155.52,121.74 155.76,121.84 156.01,121.95 156.25,122.06 156.49,122.16 156.73,122.27 156.97,122.37 157.21,122.48 157.45,122.58 157.69,122.69 157.93,122.79 158.17,122.9 158.42,123 158.66,123.1 158.9,123.21 159.14,123.31 159.38,123.41 159.62,123.52 159.86,123.62 160.1,123.72 160.34,123.82 160.59,123.92 160.83,124.02 161.07,124.12 161.31,124.23 161.55,124.33 161.79,124.43 162.03,124.53 162.27,124.62 162.51,124.72 162.75,124.82 163,124.92 163.24,125.02 163.48,125.12 163.72,125.22 163.96,125.31 164.2,125.41 164.44,125.51 164.68,125.6 164.92,125.7 165.17,125.8 165.41,125.89 165.65,125.99 165.89,126.08 166.13,126.18 166.37,126.27 166.61,126.37 166.85,126.46 167.09,126.56 167.33,126.65 167.58,126.74 167.82,126.84 168.06,126.93 168.3,127.02 168.54,127.12 168.78,127.21 169.02,127.3 169.26,127.39 169.5,127.48 169.75,127.57 169.99,127.67 170.23,127.76 170.47,127.85 170.71,127.94 170.95,128.03 171.19,128.12 171.43,128.21 171.67,128.3 171.91,128.39 172.16,128.47 172.4,128.56 172.64,128.65 172.88,128.74 173.12,128.83 173.36,128.91 173.6,129 173.84,129.09 174.08,129.18 174.32,129.26 174.57,129.35 174.81,129.44 175.05,129.52 175.29,129.61 175.53,129.69 175.77,129.78 176.01,129.86 176.25,129.95 176.49,130.03 176.74,130.12 176.98,130.2 177.22,130.28 177.46,130.37 177.7,130.45 177.94,130.53 178.18,130.62 178.42,130.7 178.66,130.78 178.9,130.86 179.15,130.95 179.39,131.03 179.63,131.11 179.87,131.19 180.11,131.27 180.35,131.35 180.59,131.43 180.83,131.52 181.07,131.6 181.32,131.68 181.56,131.76 181.8,131.83 182.04,131.91 182.28,131.99 182.52,132.07 182.76,132.15 183,132.23 183.24,132.31 183.48,132.39 183.73,132.46 183.97,132.54 184.21,132.62 184.45,132.7 184.69,132.77 184.93,132.85 185.17,132.93 185.41,133 185.65,133.08 185.9,133.16 186.14,133.23 186.38,133.31 186.62,133.38 186.86,133.46 187.1,133.53 187.34,133.61 187.58,133.68 187.82,133.76 188.06,133.83 188.31,133.9 188.55,133.98 188.79,134.05 189.03,134.12 189.27,134.2 189.51,134.27 189.75,134.34 189.99,134.42 190.23,134.49 190.48,134.56 190.72,134.63 190.96,134.7 191.2,134.78 191.44,134.85 191.68,134.92 191.92,134.99 192.16,135.06 192.4,135.13 192.64,135.2 192.89,135.27 193.13,135.34 193.37,135.41 193.61,135.48 193.85,135.55 194.09,135.62 194.33,135.69 194.57,135.76 194.81,135.83 195.06,135.89 195.3,135.96 195.54,136.03 195.78,136.1 196.02,136.15 196.26,136.15 196.5,136.15 196.74,136.15 196.98,136.15 197.22,136.15 197.47,136.15 197.71,136.15 197.95,136.15 198.19,136.15 198.43,136.15 198.67,136.15 198.91,136.15 199.15,136.15 199.39,136.15 199.64,136.15 199.88,136.15 200.12,136.15 200.36,136.15 200.6,136.15 200.84,136.15 201.08,136.15 201.32,136.15 201.56,136.15 201.8,136.15 202.05,136.15 202.29,136.15 202.53,136.15 202.77,136.15 203.01,136.15 203.25,136.15 203.49,136.15 203.73,136.15 203.97,136.15 204.22,136.15 204.46,136.15 204.7,136.15 204.94,136.15 205.18,136.15 205.42,136.15 205.66,136.15 205.9,136.15 206.14,136.15 206.38,136.15 206.63,136.15 206.87,136.15 207.11,136.15 207.35,136.15 207.59,136.15 207.83,136.15 208.07,136.15 208.31,136.15 208.55,136.15 208.8,136.15 209.04,136.15 209.28,136.15 209.52,136.15 209.76,136.15 210,136.15 210.24,136.15 210.48,136.15 210.72,136.15 210.96,136.15 211.21,136.15 211.45,136.15 211.69,136.15 211.93,136.15 212.17,136.15 212.41,136.15 212.65,136.15 212.89,136.15 213.13,136.15 213.38,136.15 213.62,136.15 213.86,136.15 214.1,136.15 214.34,136.15 214.58,136.15 214.82,136.15 215.06,136.15 215.3,136.15 215.54,136.15 215.79,136.15 216.03,136.15 216.27,136.15 216.51,136.15 216.75,136.15 216.99,136.15 217.23,136.15 217.47,136.15 217.71,136.15 217.96,136.15 218.2,136.15 218.44,136.15 218.68,136.15 218.92,136.15 219.16,136.15 219.4,136.15 219.64,136.15 219.88,136.15 220.12,136.15 220.37,136.15 220.61,136.15 220.85,136.15 221.09,136.15 221.33,136.15 221.57,136.15 221.81,136.15 222.05,136.15 222.29,136.15 222.53,136.15 222.53,128.67 222.78,128.7 223.02,128.73 223.26,128.76 223.5,128.8 223.74,128.83 223.98,128.86 224.22,128.9 224.46,128.93 224.7,128.96 224.95,128.99 225.19,129.03 225.43,129.06 225.67,129.09 225.91,129.12 226.15,129.16 226.39,129.19 226.63,129.22 226.87,129.25 227.11,129.28 227.36,129.31 227.6,129.35 227.84,129.38 228.08,129.41 228.32,129.44 228.56,129.47 228.8,129.5 229.04,129.53 229.28,129.56 229.53,129.6 229.77,129.63 230.01,129.66 230.25,129.69 230.49,129.72 230.73,129.75 230.97,129.78 231.21,129.81 231.45,129.84 231.69,129.87 231.94,129.9 232.18,129.93 232.42,129.96 232.66,129.99 232.9,130.02 233.14,130.05 233.38,130.08 233.62,130.11 233.86,130.14 234.11,130.17 234.35,130.2 234.59,130.22 234.83,130.25 235.07,130.28 235.31,130.31 235.55,130.34 235.79,130.37 236.03,130.4 236.27,130.43 236.52,130.46 236.76,130.48 237,130.51 237.24,130.54 237.48,130.57 237.72,130.6 237.96,130.62 238.2,130.65 238.44,130.68 238.69,130.71 238.93,130.74 239.17,130.76 239.41,130.79 239.65,130.82 239.89,130.85 240.13,130.87 240.37,130.9 240.61,130.93 240.85,130.96 241.1,130.98 241.34,131.01 241.58,131.04 241.82,131.06 242.06,131.09 242.3,131.12 242.54,131.14 242.78,131.17 243.02,131.2 243.27,131.22 243.51,131.25 243.75,131.28 243.99,131.3 244.23,131.33 244.47,131.36 244.71,131.38 244.95,131.41 245.19,131.43 245.43,131.46 245.68,131.48 245.92,131.51 246.16,131.54 246.4,131.56 246.64,131.59 246.88,131.61 247.12,131.64 247.36,131.66 247.6,131.69 247.85,131.71 248.09,131.74 248.33,131.76 248.57,131.79 248.81,131.81 249.05,131.84 249.29,131.86 249.53,131.89 249.77,131.91 250.01,131.94 250.26,131.96 250.5,131.99 250.74,132.01 250.98,132.03 251.22,132.06 251.46,132.08 251.7,132.11 251.94,132.13 252.18,132.15 252.43,132.18 252.67,132.2 252.91,132.23 253.15,132.25 253.39,132.27 253.63,132.3 253.87,132.32 254.11,132.34 254.35,132.37 254.59,132.39 254.84,132.41 255.08,132.44 255.32,132.46 255.56,132.48 255.8,132.51 256.04,132.53 256.28,132.55 256.52,132.58 256.76,132.6 257.01,132.62 257.25,132.64 257.49,132.67 257.73,132.69 257.97,132.71 258.21,132.73 258.45,132.76 258.69,132.78 258.93,132.8 259.17,132.82 259.42,132.84 259.66,132.87 259.9,132.89 260.14,132.91 260.38,132.93 260.62,132.95 260.86,132.98 261.1,133 261.34,133.02 261.59,133.04 261.83,133.06 262.07,133.08 262.31,133.1 262.55,133.13 262.79,133.15 263.03,133.17 263.27,133.19 263.51,133.21 263.75,133.23 264,133.25 264.24,133.27 264.48,133.29 264.72,133.32 264.96,133.34 265.2,133.36 265.44,133.38 265.68,133.4 265.92,133.42 266.17,133.44 266.41,133.46 266.65,133.48 266.89,133.5 267.13,133.52 267.37,133.54 267.61,133.56 267.85,133.58 268.09,133.6 268.33,133.62 268.58,133.64 268.82,133.66 269.06,133.68 269.3,133.7 269.54,133.72 269.78,133.74 270.02,133.76 270.26,133.78 270.5,133.8 270.74,133.82 270.99,133.84 271.23,133.86 271.47,133.88 271.71,133.9 271.95,133.91 272.19,133.93 272.43,133.95 272.67,133.97 272.91,133.99 273.16,134.01 273.4,134.03 273.64,134.05 273.88,134.07 274.12,134.09 274.36,134.1 274.6,134.12 274.84,134.14 275.08,134.16 275.32,134.18 275.57,134.2 275.81,134.21 276.05,134.23 276.29,134.25 276.53,134.27 276.77,134.29 277.01,134.31 277.25,134.32 277.49,134.34 277.74,134.36 277.98,134.38 278.22,134.4 278.46,134.41 278.7,134.43 278.94,134.45 279.18,134.47 279.42,134.48 279.66,134.5 279.9,134.52 280.15,134.54 280.39,134.55 280.63,134.57 280.87,134.59 281.11,134.61 281.35,134.62 281.59,134.64 281.83,134.66 282.07,134.68 282.32,134.69 282.56,134.71 282.8,134.73 283.04,134.74 283.28,134.76 283.52,134.78 283.76,134.79 284,134.81 284.24,134.83 284.48,134.84 284.73,134.86 284.97,134.88 285.21,134.89 285.45,134.91 285.69,134.93 285.93,134.94 286.17,134.96 286.41,134.98 286.65,134.99 286.9,135.01 287.14,135.03 287.38,135.04 287.62,135.06 287.86,135.07 288.1,135.09 288.34,135.11 288.58,135.12 288.82,135.14 289.06,135.15 289.31,135.17 289.55,135.18 289.79,135.2 290.03,135.22 290.27,135.23 290.51,135.25 290.75,135.26 290.99,135.28 291.23,135.29 291.48,135.31 291.72,135.32 291.96,135.34 292.2,135.36 292.44,135.37 292.68,135.39 292.92,135.4 293.16,135.42 293.4,135.43 293.64,135.45 293.89,135.46 294.13,135.48 294.37,135.49 294.61,135.51 294.85,135.52 295.09,135.54 295.33,135.55 295.57,135.57 295.81,135.58 296.06,135.59 296.3,135.61 296.54,135.62 296.78,135.64 297.02,135.65 297.26,135.67 297.5,135.68 297.74,135.7 297.98,135.71 298.22,135.72 298.47,135.74 298.71,135.75 298.95,135.77 299.19,135.78 299.43,135.8 299.67,135.81 299.91,135.82 300.15,135.84 300.39,135.85 300.64,135.87 300.88,135.88 301.12,135.89 301.36,135.91 301.6,135.92 301.84,135.93 302.08,135.95 302.32,135.96 302.56,135.98 302.8,135.99 303.05,136 303.29,136.02 303.53,136.03 303.77,136.04 304.01,136.06 304.25,136.07 304.49,136.08 304.73,136.1 304.97,136.11 305.22,136.12 305.46,136.14 305.7,136.15 305.94,136.15 306.18,136.15 306.42,136.15 306.66,136.15 306.9,136.15 307.14,136.15 307.38,136.15 307.63,136.15 307.87,136.15 308.11,136.15 308.35,136.15 308.59,136.15 308.83,136.15 309.07,136.15 309.31,136.15 309.55,136.15 309.8,136.15 310.04,136.15 310.28,136.15 310.52,136.15 310.76,136.15 311,136.15 311.24,136.15 311.48,136.15 311.72,136.15 311.96,136.15 312.21,136.15 312.45,136.15 312.69,136.15 312.93,136.15 313.17,136.15 313.41,136.15 313.65,136.15 313.89,136.15 314.13,136.15 314.38,136.15 314.62,136.15 314.86,136.15 315.1,136.15 315.34,136.15 315.58,136.15 315.82,136.15 316.06,136.15 316.3,136.15 316.54,136.15 316.79,136.15 317.03,136.15 317.27,136.15 317.51,136.15 317.75,136.15 317.99,136.15 318.23,136.15 318.47,136.15 318.71,136.15 318.95,136.15 319.2,136.15 319.44,136.15 319.68,136.15 319.92,136.15 320.16,136.15 320.4,136.15 320.64,136.15 320.88,136.15 321.12,136.15 321.37,136.15 321.61,136.15 321.85,136.15 322.09,136.15 322.33,136.15 322.57,136.15 322.81,136.15 323.05,136.15 323.29,136.15 323.53,136.15 323.78,136.15 324.02,136.15 324.26,136.15 324.5,136.15 324.74,136.15 324.98,136.15 325.22,136.15 325.46,136.15 325.7,136.15 325.95,136.15 326.19,136.15 326.43,136.15 326.67,136.15 326.91,136.15 327.15,136.15 327.39,136.15 327.63,136.15 327.87,136.15 328.11,136.15 328.36,136.15 328.6,136.15 328.84,136.15 329.08,136.15 329.32,136.15 329.56,136.15 329.8,136.15 330.04,136.15 330.28,136.15 330.53,136.15 330.77,136.15 331.01,136.15 331.25,136.15 331.49,136.15 331.73,136.15 331.97,136.15 332.21,136.15 332.45,136.15 332.69,136.15 332.94,136.15 333.18,136.15 333.42,136.15 333.66,136.15 333.9,136.15 334.14,136.15 334.38,136.15 334.62,136.15 334.86,136.15 335.11,136.15 335.35,136.15 335.59,136.15 335.83,136.15 336.07,136.15 336.31,136.15 336.55,136.15 336.79,136.15 337.03,136.15 337.27,136.15 337.52,136.15 337.76,136.15 338,136.15 338.24,136.15 338.48,136.15 338.72,136.15 338.96,136.15 339.2,136.15 339.44,136.15 339.69,136.15 339.93,136.15 340.17,136.15 340.41,136.15 340.65,136.15 340.89,136.15 341.13,136.15 341.37,136.15 341.61,136.15 341.85,136.15 342.1,136.15 342.34,136.15 342.58,136.15 342.82,136.15 343.06,136.15 343.3,136.15 343.54,136.15 343.78,136.15 344.02,136.15 344.27,136.15 344.51,136.15 344.75,136.15 344.99,136.15 345.23,136.15 345.47,136.15 345.71,136.15 345.95,136.15 346.19,136.15 346.43,136.15 346.68,136.15 346.92,136.15 347.16,136.15 347.4,136.15 347.64,136.15 347.88,136.15 348.12,136.15 348.36,136.15 348.6,136.15 348.85,136.15 349.09,136.15 349.33,136.15 349.57,136.15 349.81,136.15 350.05,136.15 350.29,136.15 350.53,136.15 350.77,136.15 351.01,136.15 351.26,136.15 351.5,136.15 351.74,136.15 351.98,136.15 352.22,136.15 352.46,136.15 352.7,136.15 352.94,136.15 353.18,136.15 353.43,136.15 353.67,136.15 353.91,136.15 354.15,136.15 354.39,136.15 354.63,136.15 354.87,136.15 355.11,136.15 355.11,151.12 355.35,150.91 355.59,150.71 355.84,150.5 356.08,150.3 356.32,150.09 356.56,149.88 356.8,149.68 357.04,149.48 357.28,149.27 357.52,149.07 357.76,148.87 358.01,148.66 358.25,148.46 358.49,148.26 358.73,148.06 358.97,147.86 359.21,147.66 359.45,147.46 359.69,147.26 359.93,147.06 360.17,146.86 360.42,146.66 360.66,146.46 360.9,146.27 361.14,146.07 361.38,145.87 361.62,145.68 361.86,145.48 362.1,145.28 362.34,145.09 362.59,144.89 362.83,144.7 363.07,144.5 363.31,144.31 363.55,144.12 363.79,143.92 364.03,143.73 364.27,143.54 364.51,143.35 364.75,143.16 365,142.97 365.24,142.77 365.48,142.58 365.72,142.39 365.96,142.2 366.2,142.02 366.44,141.83 366.68,141.64 366.92,141.45 367.16,141.26 367.41,141.07 367.65,140.89 367.89,140.7 368.13,140.51 368.37,140.33 368.61,140.14 368.85,139.96 369.09,139.77 369.33,139.59 369.58,139.4 369.82,139.22 370.06,139.04 370.3,138.85 370.54,138.67 370.78,138.49 371.02,138.31 371.26,138.13 371.5,137.94 371.74,137.76 371.99,137.58 372.23,137.4 372.47,137.22 372.71,137.04 372.95,136.86 373.19,136.69 373.43,136.51 373.67,136.33 373.91,136.15 374.16,136.15 374.4,136.15 374.64,136.15 374.88,136.15 375.12,136.15 375.36,136.15 375.6,136.15 375.84,136.15 376.08,136.15 376.32,136.15 376.57,136.15 376.81,136.15 377.05,136.15 377.29,136.15 377.53,136.15 377.77,136.15 378.01,136.15 378.25,136.15 378.49,136.15 378.74,136.15 378.98,136.15 379.22,136.15 379.46,136.15 379.7,136.15 379.94,136.15 380.18,136.15 380.42,136.15 380.66,136.15 380.9,136.15 381.15,136.15 381.39,136.15 381.63,136.15 381.87,136.15 382.11,136.15 382.35,136.15 382.59,136.15 382.83,136.15 383.07,136.15 383.32,136.15 383.56,136.15 383.8,136.15 384.04,136.15 384.28,136.15 384.52,136.15 384.76,136.15 385,136.15 385.24,136.15 385.48,136.15 385.73,136.15 385.97,136.15 386.21,136.15 386.45,136.15 386.69,136.15 386.93,136.15 387.17,136.15 387.41,136.15 387.65,136.15 387.9,136.15 388.14,136.15 388.38,136.15 388.62,136.15 388.86,136.15 389.1,136.15 389.34,136.15 389.58,136.15 389.82,136.15 390.06,136.15 390.31,136.15 390.55,136.15 390.79,136.15 391.03,136.15 391.27,136.15 391.51,136.15 391.75,136.15 391.99,136.15 392.23,136.15 392.48,136.15 392.72,136.15 392.96,136.15 393.2,136.15 393.44,136.15 393.68,136.15 393.92,136.15 394.16,136.15 394.4,136.15 394.64,136.15 394.89,136.15 395.13,136.15 395.37,136.15 395.61,136.15 395.85,136.15 396.09,136.15 396.33,136.15 396.57,136.15 396.81,136.15 397.06,136.15 397.3,136.15 397.54,136.15 397.78,136.15 398.02,136.15 398.26,136.15 398.5,136.15 398.74,136.15 398.98,136.15 399.22,136.15 399.47,136.15 399.71,136.15 399.95,136.15 400.19,136.15 400.43,136.15 400.67,136.15 400.91,136.15 401.15,136.15 401.39,136.15 401.64,136.15 401.88,136.15 402.12,136.15 402.36,136.15 402.6,136.15 402.84,136.15 403.08,136.15 403.32,136.15 403.56,136.15 403.8,136.15 404.05,136.15 404.29,136.15 404.53,136.15 404.77,136.15 405.01,136.15 405.25,136.15 405.49,136.15 405.73,136.15 405.97,136.15 406.22,136.15 406.46,136.15 406.7,136.15 406.94,136.15 407.18,136.15 407.42,136.15 407.66,136.15 407.9,136.15 408.14,136.15 408.38,136.15 408.63,136.15 408.87,136.15 409.11,136.15 409.35,136.15 409.59,136.15 409.83,136.15 410.07,136.15 410.31,136.15 410.55,136.15 410.8,136.15 411.04,136.15 411.28,136.15 411.52,136.15 411.76,136.15 412,136.15 412.24,136.15 412.48,136.15 412.72,136.15 412.96,136.15 413.21,136.15 413.45,136.15 413.69,136.15 413.93,136.15 414.17,136.15 414.41,136.15 414.65,136.15 414.89,136.15 415.13,136.15 415.38,136.15 415.62,136.15 415.86,136.15 416.1,136.15 416.34,136.15 416.58,136.15 416.82,136.15 417.06,136.15 417.3,136.15 417.54,136.15 417.79,136.15 418.03,136.15 418.27,136.15 418.51,136.15 418.75,136.15 418.99,136.15 419.23,136.15 419.47,136.15 419.71,136.15 419.95,136.15 420.2,136.15 420.44,136.15 420.68,136.15 420.92,136.15 421.16,136.15 421.4,136.15 421.64,136.15 421.88,136.15 422.12,136.15 422.37,136.15 422.61,136.15 422.85,136.15 423.09,136.15 423.33,136.15 423.57,136.15 423.81,136.15 424.05,136.15 424.29,136.15 424.53,136.15 424.78,136.15 425.02,136.15 425.26,136.15 425.5,136.15 425.74,136.15 425.98,136.15 426.22,136.15 426.46,136.15 426.7,136.15 426.95,136.15 427.19,136.15 427.43,136.15 427.67,136.15 427.91,136.15 428.15,136.15 428.39,136.15 428.63,136.15 428.87,136.15 429.11,136.15 429.36,136.15 429.6,136.15 429.84,136.15 430.08,136.15 430.32,136.15 430.56,136.15 430.8,136.15 431.04,136.15 431.28,136.15 431.53,136.15 431.77,136.15 432.01,136.15 432.25,136.15 432.49,136.15 432.73,136.15 432.97,136.15 433.21,136.15 433.45,136.15 433.69,136.15 433.94,136.15 434.18,136.15 434.42,136.15 434.66,136.15 434.9,136.15 435.14,136.15 435.38,136.15 435.62,136.15 435.86,136.15 436.11,136.15 436.35,136.15 436.59,136.15 436.83,136.15 437.07,136.15 437.31,136.15 437.55,136.15 437.79,136.15 438.03,136.15 438.27,136.15 438.52,136.15 438.76,136.15 439,136.15 439.24,136.15 439.48,136.15 439.72,136.15 439.96,136.15 440.2,136.15 440.44,136.15 440.69,136.15 440.93,136.15 441.17,136.15 441.41,136.15 441.65,136.15 441.89,136.15 442.13,136.15 442.37,136.15 442.61,136.15 442.85,136.15 443.1,136.15 443.34,136.15 443.58,136.15 443.82,136.15 444.06,136.15 444.3,136.15 444.54,136.15 444.78,136.15 445.02,136.15 445.27,136.15 445.51,136.15 445.75,136.15 445.99,136.15 446.23,136.15 446.47,136.15 446.71,136.15 446.95,136.15 447.19,136.15 447.43,136.15 447.68,136.15 447.92,136.15 448.16,136.15 448.4,136.15 448.64,136.15 448.88,136.15 449.12,136.15 449.36,136.15 449.6,136.15 449.85,136.15 450.09,136.15 450.33,136.15 450.57,136.15 450.81,136.15 451.05,136.15 451.29,136.15 451.53,136.15 451.53,106.21 451.77,106.37 452.01,106.53 452.26,106.69 452.5,106.85 452.74,107.01 452.98,107.17 453.22,107.32 453.46,107.48 453.7,107.64 453.94,107.8 454.18,107.95 454.43,108.11 454.67,108.27 454.91,108.42 455.15,108.58 455.39,108.73 455.63,108.89 455.87,109.04 456.11,109.19 456.35,109.35 456.59,109.5 456.84,109.65 457.08,109.8 457.32,109.96 457.56,110.11 457.8,110.26 458.04,110.41 458.28,110.56 458.52,110.71 458.76,110.86 459.01,111.01 459.25,111.16 459.49,111.31 459.73,111.45 459.97,111.6 460.21,111.75 460.45,111.9 460.69,112.04 460.93,112.19 461.17,112.34 461.42,112.48 461.66,112.63 461.9,112.77 462.14,112.92 462.38,113.06 462.62,113.21 462.86,113.35 463.1,113.49 463.34,113.64 463.58,113.78 463.83,113.92 464.07,114.06 464.31,114.21 464.55,114.35 464.79,114.49 465.03,114.63 465.27,114.77 465.51,114.91 465.75,115.05 466,115.19 466.24,115.33 466.48,115.47 466.72,115.6 466.96,115.74 467.2,115.88 467.44,116.02 467.68,116.15 467.92,116.29 468.16,116.43 468.41,116.56 468.65,116.7 468.89,116.84 469.13,116.97 469.37,117.1 469.61,117.24 469.85,117.37 470.09,117.51 470.33,117.64 470.58,117.77 470.82,117.91 471.06,118.04 471.3,118.17 471.54,118.3 471.78,118.44 472.02,118.57 472.26,118.7 472.5,118.83 472.74,118.96 472.99,119.09 473.23,119.22 473.47,119.35 473.71,119.48 473.95,119.61 474.19,119.73 474.43,119.86 474.67,119.99 474.91,120.12 475.16,120.25 475.4,120.37 475.64,120.5 475.88,120.63 476.12,120.75 476.36,120.88 476.6,121 476.84,121.13 477.08,121.25 477.32,121.38 477.57,121.5 477.81,121.63 478.05,121.75 478.29,121.87 478.53,122 478.77,122.12 479.01,122.24 479.25,122.36 479.49,122.49 479.74,122.61 479.98,122.73 480.22,122.85 480.46,122.97 480.7,123.09 480.94,123.21 481.18,123.33 481.42,123.45 481.66,123.57 481.9,123.69 482.15,123.81 482.39,123.93 482.63,124.04 482.87,124.16 483.11,124.28 483.35,124.4 483.59,124.51 483.83,124.63 484.07,124.75 484.32,124.86 484.56,124.98 484.8,125.1 485.04,125.21 485.28,125.33 485.52,125.44 485.76,125.56 486,125.67 486.24,125.78 486.48,125.9 486.73,126.01 486.97,126.12 487.21,126.24 487.45,126.35 487.69,126.46 487.93,126.58 488.17,126.69 488.41,126.8 488.65,126.91 488.9,127.02 489.14,127.13 489.38,127.24 489.62,127.35 489.86,127.46 490.1,127.57 490.34,127.68 490.58,127.79 490.82,127.9 491.06,128.01 491.31,128.12 491.55,128.23 491.79,128.33 492.03,128.44 492.27,128.55 492.51,128.66 492.75,128.76 492.99,128.87 493.23,128.98 493.48,129.08 493.72,129.19 493.96,129.29 494.2,129.4 494.44,129.51 494.68,129.61 494.92,129.71 495.16,129.82 495.4,129.92 495.64,130.03 495.89,130.13 496.13,130.23 496.37,130.34 496.61,130.44 496.85,130.54 497.09,130.65 497.33,130.75 497.57,130.85 497.81,130.95 498.06,131.05 498.3,131.15 498.54,131.26 498.78,131.36 499.02,131.46 499.26,131.56 499.5,131.66 499.74,131.76 499.98,131.86 500.22,131.96 500.47,132.06 500.71,132.15 500.95,132.25 501.19,132.35 501.43,132.45 501.67,132.55 501.91,132.64 502.15,132.74 502.39,132.84 502.64,132.94 502.88,133.03 503.12,133.13 503.36,133.23 503.6,133.32 503.84,133.42 504.08,133.51 504.32,133.61 504.56,133.7 504.8,133.8 505.05,133.89 505.29,133.99 505.53,134.08 505.77,134.18 506.01,134.27 506.25,134.36 506.49,134.46 506.73,134.55 506.97,134.64 507.22,134.74 507.46,134.83 507.7,134.92 507.94,135.01 508.18,135.1 508.42,135.2 508.66,135.29 508.9,135.38 509.14,135.47 509.38,135.56 509.63,135.65 509.87,135.74 510.11,135.83 510.35,135.92 510.59,136.01 510.83,136.1 511.07,136.15 511.31,136.15 511.55,136.15 511.79,136.15 512.04,136.15 512.28,136.15 512.52,136.15 512.76,136.15 513,136.15 513.24,136.15 513.48,136.15 513.72,136.15 513.96,136.15 514.21,136.15 514.45,136.15 514.69,136.15 514.93,136.15 515.17,136.15 515.41,136.15 515.65,136.15 515.89,136.15 516.13,136.15 516.37,136.15 516.62,136.15 516.86,136.15 517.1,136.15 517.34,136.15 517.58,136.15 517.82,136.15 518.06,136.15 518.3,136.15 518.54,136.15 518.79,136.15 519.03,136.15 519.27,136.15 519.51,136.15 519.75,136.15 519.99,136.15 520.23,136.15 520.47,136.15 520.71,136.15 520.95,136.15 521.2,136.15 521.44,136.15 521.68,136.15 521.92,136.15 522.16,136.15 522.4,136.15 522.64,136.15 522.88,136.15 523.12,136.15 523.37,136.15 523.61,136.15 523.85,136.15 524.09,136.15 524.33,136.15 524.57,136.15 524.81,136.15 525.05,136.15 525.29,136.15 525.53,136.15 525.78,136.15 526.02,136.15 526.26,136.15 526.5,136.15 526.74,136.15 526.98,136.15 527.22,136.15 527.46,136.15 527.7,136.15 527.95,136.15 528.19,136.15 528.43,136.15 528.67,136.15 528.91,136.15 529.15,136.15 529.39,136.15 529.63,136.15 529.87,136.15 530.11,136.15 530.36,136.15 530.6,136.15 530.84,136.15 531.08,136.15 531.32,136.15 531.56,136.15 531.8,136.15 532.04,136.15 532.28,136.15 532.53,136.15 532.77,136.15 533.01,136.15 533.25,136.15 533.49,136.15 533.73,136.15 533.97,136.15 534.21,136.15 534.45,136.15 534.69,136.15 534.94,136.15 535.18,136.15 535.42,136.15 535.66,136.15 535.9,136.15" fill="none" stroke="#24208e" stroke-width="1.6" stroke-linejoin="round"/>
<text x="53.8" y="179.5" text-anchor="middle" class="tk">0</text>
<text x="114.06" y="179.5" text-anchor="middle" class="tk">0.05</text>
<text x="174.32" y="179.5" text-anchor="middle" class="tk">0.1</text>
<text x="234.59" y="179.5" text-anchor="middle" class="tk">0.15</text>
<text x="294.85" y="179.5" text-anchor="middle" class="tk">0.2</text>
<text x="355.11" y="179.5" text-anchor="middle" class="tk">0.25</text>
<text x="415.38" y="179.5" text-anchor="middle" class="tk">0.3</text>
<text x="475.64" y="179.5" text-anchor="middle" class="tk">0.35</text>
<text x="535.9" y="179.5" text-anchor="middle" class="tk">0.4</text>
<text x="50.2" y="111.21" text-anchor="end" class="tk">200</text>
<text x="50.2" y="126.18" text-anchor="end" class="tk">100</text>
<text x="50.2" y="141.15" text-anchor="end" class="tk">0</text>
<text x="50.2" y="156.12" text-anchor="end" class="tk">−100</text>
<line x1="114.06" y1="190.5" x2="114.06" y2="251.5" stroke="#eeeeee" stroke-width="1"/>
<line x1="174.32" y1="190.5" x2="174.32" y2="251.5" stroke="#eeeeee" stroke-width="1"/>
<line x1="234.59" y1="190.5" x2="234.59" y2="251.5" stroke="#eeeeee" stroke-width="1"/>
<line x1="294.85" y1="190.5" x2="294.85" y2="251.5" stroke="#eeeeee" stroke-width="1"/>
<line x1="355.11" y1="190.5" x2="355.11" y2="251.5" stroke="#eeeeee" stroke-width="1"/>
<line x1="415.38" y1="190.5" x2="415.38" y2="251.5" stroke="#eeeeee" stroke-width="1"/>
<line x1="475.64" y1="190.5" x2="475.64" y2="251.5" stroke="#eeeeee" stroke-width="1"/>
<line x1="54" y1="218.3" x2="535.5" y2="218.3" stroke="#eeeeee" stroke-width="1"/>
<line x1="54" y1="246.3" x2="535.5" y2="246.3" stroke="#eeeeee" stroke-width="1"/>
<rect x="54" y="190.5" width="481.5" height="61" fill="none" stroke="#8a8a8a" stroke-width="1"/>
<line x1="114.06" y1="251.5" x2="114.06" y2="247" stroke="#8a8a8a"/>
<line x1="114.06" y1="190.5" x2="114.06" y2="195" stroke="#8a8a8a"/>
<line x1="174.32" y1="251.5" x2="174.32" y2="247" stroke="#8a8a8a"/>
<line x1="174.32" y1="190.5" x2="174.32" y2="195" stroke="#8a8a8a"/>
<line x1="234.59" y1="251.5" x2="234.59" y2="247" stroke="#8a8a8a"/>
<line x1="234.59" y1="190.5" x2="234.59" y2="195" stroke="#8a8a8a"/>
<line x1="294.85" y1="251.5" x2="294.85" y2="247" stroke="#8a8a8a"/>
<line x1="294.85" y1="190.5" x2="294.85" y2="195" stroke="#8a8a8a"/>
<line x1="355.11" y1="251.5" x2="355.11" y2="247" stroke="#8a8a8a"/>
<line x1="355.11" y1="190.5" x2="355.11" y2="195" stroke="#8a8a8a"/>
<line x1="415.38" y1="251.5" x2="415.38" y2="247" stroke="#8a8a8a"/>
<line x1="415.38" y1="190.5" x2="415.38" y2="195" stroke="#8a8a8a"/>
<line x1="475.64" y1="251.5" x2="475.64" y2="247" stroke="#8a8a8a"/>
<line x1="475.64" y1="190.5" x2="475.64" y2="195" stroke="#8a8a8a"/>
<line x1="54" y1="190.3" x2="58.5" y2="190.3" stroke="#8a8a8a"/>
<line x1="535.5" y1="190.3" x2="531" y2="190.3" stroke="#8a8a8a"/>
<line x1="54" y1="218.3" x2="58.5" y2="218.3" stroke="#8a8a8a"/>
<line x1="535.5" y1="218.3" x2="531" y2="218.3" stroke="#8a8a8a"/>
<line x1="54" y1="246.3" x2="58.5" y2="246.3" stroke="#8a8a8a"/>
<line x1="535.5" y1="246.3" x2="531" y2="246.3" stroke="#8a8a8a"/>
<polygon points="88.03,205 89.03,205 90.03,205 91.03,205 92.03,205 93.03,205 94.03,205 95.03,205 96.03,205 97.03,205 98.03,205 99.03,205 100.03,205 101.03,205 102.03,205 103.03,205 104.03,205 105.03,205 106.03,205 107.03,205 108.03,205 109.03,205 110.03,205 111.03,205 112.03,205 113.03,205 114.03,205 115.03,205 116.03,205 117.03,205 118.03,205 119.03,205 120.03,205 121.03,205 122.03,205 123.03,205 124.03,205 125.03,205 126.03,205 126.11,205 126.11,228.3 126.03,228.3 125.03,228.3 124.03,228.3 123.03,228.3 122.03,228.3 121.03,228.3 120.03,228.3 119.03,228.3 118.03,228.3 117.03,228.3 116.03,228.3 115.03,228.3 114.03,228.3 113.03,228.3 112.03,228.3 111.03,228.3 110.03,228.3 109.03,228.3 108.03,228.3 107.03,228.3 106.03,228.3 105.03,228.3 104.03,228.3 103.03,228.3 102.03,228.3 101.03,228.3 100.03,228.3 99.03,228.3 98.03,228.3 97.03,228.3 96.03,228.3 95.03,228.3 94.03,228.3 93.03,228.3 92.03,228.3 91.03,228.3 90.03,228.3 89.03,228.3 88.03,228.3" fill="#ff0a0a"/>
<polygon points="88.03,205 89.03,208.96 90.03,211.24 91.03,212.54 92.03,213.29 93.03,213.72 94.03,213.97 95.03,214.11 96.03,214.19 97.03,214.24 98.03,214.26 99.03,214.28 100.03,214.29 101.03,214.29 102.03,214.3 103.03,214.3 104.03,214.3 105.03,214.3 106.03,214.3 107.03,214.3 108.03,214.3 109.03,214.3 110.03,214.3 111.03,214.3 112.03,214.3 113.03,214.3 114.03,214.3 115.03,214.3 116.03,214.3 117.03,214.3 118.03,214.3 119.03,214.3 120.03,214.3 121.03,214.3 122.03,214.3 123.03,214.3 124.03,214.3 125.03,214.3 126.03,214.3 126.11,214.3 126.11,221.3 126.03,221.3 125.03,221.3 124.03,221.3 123.03,221.3 122.03,221.3 121.03,221.3 120.03,221.3 119.03,221.3 118.03,221.3 117.03,221.3 116.03,221.3 115.03,221.3 114.03,221.3 113.03,221.3 112.03,221.3 111.03,221.3 110.03,221.3 109.03,221.3 108.03,221.3 107.03,221.3 106.03,221.3 105.03,221.3 104.03,221.3 103.03,221.3 102.03,221.3 101.03,221.31 100.03,221.31 99.03,221.32 98.03,221.34 97.03,221.36 96.03,221.41 95.03,221.49 94.03,221.63 93.03,221.88 92.03,222.31 91.03,223.06 90.03,224.36 89.03,226.64 88.03,230.6" fill="#0a0aff"/>
<polygon points="196.02,205.54 197.02,206.25 198.02,205.63 199.02,205.76 200.02,205.82 201.02,205.84 202.02,205.96 203.02,205.72 204.02,205.54 205.02,205.94 206.02,206.27 207.02,205.93 208.02,206 209.02,205.88 210.02,206.11 211.02,206.04 212.02,205.89 213.02,205.76 214.02,205.59 215.02,205.71 216.02,205.69 217.02,206.02 218.02,205.53 219.02,205.7 220.02,205.93 221.02,205.91 221.93,205.9 221.93,230.99 221.02,231.55 220.02,229.18 219.02,230.29 218.02,226.97 217.02,231.89 216.02,230.74 215.02,231.44 214.02,230.78 213.02,227.09 212.02,231.99 211.02,226.82 210.02,226.14 209.02,229.36 208.02,231.35 207.02,227.91 206.02,226.16 205.02,227.61 204.02,229.27 203.02,231.97 202.02,228.36 201.02,226.95 200.02,229.64 199.02,227.85 198.02,230.42 197.02,226.51 196.02,231.69" fill="#ff0a0a"/>
<line x1="196.52" y1="224" x2="196.52" y2="228.12" stroke="#d82020" stroke-width="1.5"/>
<line x1="198.87" y1="224" x2="198.87" y2="231.4" stroke="#d82020" stroke-width="1.5"/>
<line x1="200.61" y1="224" x2="200.61" y2="229.41" stroke="#d82020" stroke-width="1.5"/>
<line x1="203.02" y1="224" x2="203.02" y2="230.34" stroke="#d82020" stroke-width="1.5"/>
<line x1="204.8" y1="224" x2="204.8" y2="227.33" stroke="#d82020" stroke-width="1.5"/>
<line x1="206.35" y1="224" x2="206.35" y2="230.2" stroke="#d82020" stroke-width="1.5"/>
<line x1="207.67" y1="224" x2="207.67" y2="231.45" stroke="#d82020" stroke-width="1.5"/>
<line x1="209.13" y1="224" x2="209.13" y2="231.47" stroke="#d82020" stroke-width="1.5"/>
<line x1="210.66" y1="224" x2="210.66" y2="231.74" stroke="#d82020" stroke-width="1.5"/>
<line x1="212.76" y1="224" x2="212.76" y2="229.03" stroke="#d82020" stroke-width="1.5"/>
<line x1="214.58" y1="224" x2="214.58" y2="229.91" stroke="#d82020" stroke-width="1.5"/>
<line x1="216.51" y1="224" x2="216.51" y2="227.87" stroke="#d82020" stroke-width="1.5"/>
<line x1="217.89" y1="224" x2="217.89" y2="229.07" stroke="#d82020" stroke-width="1.5"/>
<line x1="220.31" y1="224" x2="220.31" y2="229.74" stroke="#d82020" stroke-width="1.5"/>
<line x1="221.5" y1="224" x2="221.5" y2="230.92" stroke="#d82020" stroke-width="1.5"/>
<polygon points="196.02,206 197.02,210.29 198.02,211.71 199.02,212.17 200.02,212.32 201.02,212.38 202.02,212.39 203.02,212.4 204.02,212.4 205.02,212.4 206.02,212.4 207.02,212.4 208.02,212.4 209.02,212.4 210.02,212.4 211.02,212.4 212.02,212.4 213.02,212.4 214.02,212.4 215.02,212.4 216.02,212.4 217.02,212.4 218.02,212.4 219.02,212.4 220.02,212.4 221.02,212.4 221.93,212.4 221.93,219.6 221.02,219.6 220.02,219.6 219.02,219.6 218.02,219.6 217.02,219.6 216.02,219.6 215.02,219.6 214.02,219.6 213.02,219.6 212.02,219.6 211.02,219.6 210.02,219.6 209.02,219.6 208.02,219.6 207.02,219.6 206.02,219.6 205.02,219.6 204.02,219.6 203.02,219.6 202.02,219.61 201.02,219.62 200.02,219.68 199.02,219.83 198.02,220.29 197.02,221.71 196.02,226" fill="#0a0aff"/>
<polygon points="308.59,210.19 309.59,209.91 310.59,210.07 311.59,209.86 312.59,209.84 313.59,210.34 314.59,210.39 315.59,209.65 316.59,210.17 317.59,210.19 318.59,209.5 319.59,209.98 320.59,209.65 321.59,209.97 322.59,209.82 323.59,210.26 324.59,209.83 325.59,209.62 326.59,209.93 327.59,209.73 328.59,209.8 329.59,210.34 330.59,209.72 331.59,209.87 332.59,210.13 333.59,210.37 334.59,209.62 335.59,209.97 336.59,209.75 337.59,209.61 338.59,209.76 339.59,209.57 340.59,210.04 341.59,209.68 342.59,210 343.59,209.56 344.59,209.61 345.59,210.31 346.59,210.28 347.59,210.2 348.59,209.53 349.59,210.01 350.59,209.84 351.59,210.13 352.59,209.94 353.59,210.05 354.59,210.08 354.87,209.87 354.87,222 354.59,222 353.59,222 352.59,222 351.59,222 350.59,222 349.59,222 348.59,222 347.59,222 346.59,222 345.59,222 344.59,222 343.59,222 342.59,222 341.59,222 340.59,222 339.59,222 338.59,222 337.59,222 336.59,222 335.59,222 334.59,222 333.59,222 332.59,222 331.59,222 330.59,222 329.59,222 328.59,222 327.59,222 326.59,222 325.59,222 324.59,222 323.59,222 322.59,222 321.59,222 320.59,222 319.59,222 318.59,222 317.59,222 316.59,222 315.59,222 314.59,222 313.59,222 312.59,222 311.59,222 310.59,222 309.59,222 308.59,222" fill="#ff0a0a"/>
<line x1="309.09" y1="220" x2="309.09" y2="229.26" stroke="#d82020" stroke-width="1.5"/>
<line x1="313.06" y1="220" x2="313.06" y2="230.14" stroke="#d82020" stroke-width="1.5"/>
<line x1="317.09" y1="220" x2="317.09" y2="231.71" stroke="#d82020" stroke-width="1.5"/>
<line x1="321.27" y1="220" x2="321.27" y2="230.04" stroke="#d82020" stroke-width="1.5"/>
<line x1="323.46" y1="220" x2="323.46" y2="231.75" stroke="#d82020" stroke-width="1.5"/>
<line x1="327.57" y1="220" x2="327.57" y2="232.14" stroke="#d82020" stroke-width="1.5"/>
<line x1="330.74" y1="220" x2="330.74" y2="230.42" stroke="#d82020" stroke-width="1.5"/>
<line x1="333.05" y1="220" x2="333.05" y2="231.48" stroke="#d82020" stroke-width="1.5"/>
<line x1="336.22" y1="220" x2="336.22" y2="226.56" stroke="#d82020" stroke-width="1.5"/>
<line x1="338.18" y1="220" x2="338.18" y2="231.69" stroke="#d82020" stroke-width="1.5"/>
<line x1="342.35" y1="220" x2="342.35" y2="224.8" stroke="#d82020" stroke-width="1.5"/>
<line x1="346.07" y1="220" x2="346.07" y2="227.69" stroke="#d82020" stroke-width="1.5"/>
<line x1="348.23" y1="220" x2="348.23" y2="226.65" stroke="#d82020" stroke-width="1.5"/>
<line x1="351.88" y1="220" x2="351.88" y2="231.85" stroke="#d82020" stroke-width="1.5"/>
<line x1="353.79" y1="220" x2="353.79" y2="229.53" stroke="#d82020" stroke-width="1.5"/>
<polygon points="308.59,211.7 309.59,211.7 310.59,211.7 311.59,211.7 312.59,211.7 313.59,211.7 314.59,211.7 315.59,211.7 316.59,211.7 317.59,211.7 318.59,211.7 319.59,211.7 320.59,211.7 321.59,211.7 322.59,211.7 323.59,211.7 324.59,211.7 325.59,211.7 326.59,211.7 327.59,211.7 328.59,211.7 329.59,211.7 330.59,211.7 331.59,211.7 332.59,211.7 333.59,211.7 334.59,211.7 335.59,211.7 336.59,211.7 337.59,211.7 338.59,211.7 339.59,211.7 340.59,211.7 341.59,211.7 342.59,211.7 343.59,211.7 344.59,211.7 345.59,211.7 346.59,211.7 347.59,211.7 348.59,211.7 349.59,211.7 350.59,211.7 351.59,211.7 352.59,211.7 353.59,211.7 354.59,211.7 354.87,211.7 354.87,220 354.59,220 353.59,220 352.59,220 351.59,220 350.59,220 349.59,220 348.59,220 347.59,220 346.59,220 345.59,220 344.59,220 343.59,220 342.59,220 341.59,220 340.59,220 339.59,220 338.59,220 337.59,220 336.59,220 335.59,220 334.59,220 333.59,220 332.59,220 331.59,220 330.59,220 329.59,220 328.59,220 327.59,220 326.59,220 325.59,220 324.59,220 323.59,220 322.59,220 321.59,220 320.59,220 319.59,220 318.59,220 317.59,220 316.59,220 315.59,220 314.59,220 313.59,220 312.59,220 311.59,220 310.59,220 309.59,220 308.59,220" fill="#0a0aff"/>
<polygon points="375.84,206.72 376.84,206.52 377.84,206.92 378.84,205.9 379.84,206.08 380.84,206.36 381.84,206.79 382.84,206.74 383.84,206.01 384.84,206.04 385.84,206.63 386.84,206.12 387.84,205.94 388.84,206.27 389.84,206.39 390.84,206.43 391.84,205.88 392.84,206.34 393.84,205.91 394.84,205.94 395.84,206.39 396.84,206.28 397.84,206.81 398.84,206.02 399.84,206.94 400.84,206.66 401.84,206.43 402.84,205.8 403.84,206.5 404.84,206.24 405.84,206.57 406.84,206.62 407.84,205.91 408.84,206.93 409.84,206.08 410.84,206.72 411.84,206.79 412.84,206.95 413.84,205.92 414.84,206.12 415.84,206.98 416.84,205.84 417.84,206.51 418.84,206.26 419.84,206.65 420.84,206.47 421.84,206.54 422.84,206.6 423.84,206.95 424.84,206.06 425.84,206.65 426.84,205.82 427.84,206.75 428.84,206.93 429.84,206.19 430.84,206.95 431.84,206.7 432.84,206.85 433.84,206.07 434.84,205.81 435.84,206.71 436.84,206.96 437.84,206.7 438.84,206 439.84,206.96 440.84,206.71 441.84,206.72 442.84,206.83 443.84,205.89 444.84,205.81 445.84,205.92 446.84,206.05 447.84,206.41 448.84,206.75 449.84,205.92 450.84,206.6 451.29,206.04 451.29,228.07 450.84,228.13 449.84,229.2 448.84,229 447.84,225.87 446.84,228.48 445.84,228.12 444.84,227.11 443.84,227.76 442.84,225.71 441.84,228.98 440.84,226.33 439.84,226.52 438.84,227.49 437.84,229.06 436.84,227.18 435.84,227.14 434.84,227.41 433.84,227.14 432.84,227.62 431.84,229.49 430.84,227.46 429.84,226.1 428.84,226.17 427.84,225.74 426.84,227.2 425.84,225.89 424.84,226.95 423.84,226.18 422.84,225.54 421.84,229.35 420.84,226.05 419.84,226.27 418.84,228.77 417.84,229.27 416.84,228.6 415.84,226.66 414.84,229.34 413.84,229.32 412.84,228.29 411.84,227.34 410.84,226.82 409.84,227.96 408.84,226.42 407.84,225.9 406.84,227.73 405.84,228.49 404.84,226.61 403.84,226.31 402.84,226.28 401.84,226.87 400.84,227.64 399.84,228.01 398.84,225.67 397.84,226.72 396.84,227.22 395.84,227.16 394.84,228.89 393.84,227.79 392.84,226.7 391.84,228.96 390.84,225.86 389.84,226.21 388.84,228.19 387.84,225.85 386.84,228.92 385.84,228.01 384.84,226.27 383.84,228.73 382.84,229.21 381.84,225.92 380.84,226.61 379.84,226.39 378.84,228.7 377.84,227.11 376.84,226.12 375.84,225.91" fill="#ff0a0a"/>
<line x1="376.34" y1="225" x2="376.34" y2="230.89" stroke="#d82020" stroke-width="1.5"/>
<line x1="378.39" y1="225" x2="378.39" y2="229.93" stroke="#d82020" stroke-width="1.5"/>
<line x1="380.69" y1="225" x2="380.69" y2="227.61" stroke="#d82020" stroke-width="1.5"/>
<line x1="383.36" y1="225" x2="383.36" y2="231.74" stroke="#d82020" stroke-width="1.5"/>
<line x1="384.68" y1="225" x2="384.68" y2="231.83" stroke="#d82020" stroke-width="1.5"/>
<line x1="387.42" y1="225" x2="387.42" y2="230.01" stroke="#d82020" stroke-width="1.5"/>
<line x1="388.69" y1="225" x2="388.69" y2="231.39" stroke="#d82020" stroke-width="1.5"/>
<line x1="390.09" y1="225" x2="390.09" y2="231.81" stroke="#d82020" stroke-width="1.5"/>
<line x1="392.36" y1="225" x2="392.36" y2="226.36" stroke="#d82020" stroke-width="1.5"/>
<line x1="393.83" y1="225" x2="393.83" y2="229.81" stroke="#d82020" stroke-width="1.5"/>
<line x1="395.94" y1="225" x2="395.94" y2="230.48" stroke="#d82020" stroke-width="1.5"/>
<line x1="398.62" y1="225" x2="398.62" y2="227.31" stroke="#d82020" stroke-width="1.5"/>
<line x1="399.83" y1="225" x2="399.83" y2="231.53" stroke="#d82020" stroke-width="1.5"/>
<line x1="401.05" y1="225" x2="401.05" y2="231.26" stroke="#d82020" stroke-width="1.5"/>
<line x1="402.44" y1="225" x2="402.44" y2="230.86" stroke="#d82020" stroke-width="1.5"/>
<line x1="404.89" y1="225" x2="404.89" y2="231.27" stroke="#d82020" stroke-width="1.5"/>
<line x1="406.97" y1="225" x2="406.97" y2="231.27" stroke="#d82020" stroke-width="1.5"/>
<line x1="408.49" y1="225" x2="408.49" y2="230.03" stroke="#d82020" stroke-width="1.5"/>
<line x1="410.22" y1="225" x2="410.22" y2="231.35" stroke="#d82020" stroke-width="1.5"/>
<line x1="412.66" y1="225" x2="412.66" y2="228.83" stroke="#d82020" stroke-width="1.5"/>
<line x1="414.7" y1="225" x2="414.7" y2="226.16" stroke="#d82020" stroke-width="1.5"/>
<line x1="415.96" y1="225" x2="415.96" y2="229.57" stroke="#d82020" stroke-width="1.5"/>
<line x1="417.94" y1="225" x2="417.94" y2="231.19" stroke="#d82020" stroke-width="1.5"/>
<line x1="420.11" y1="225" x2="420.11" y2="226.83" stroke="#d82020" stroke-width="1.5"/>
<line x1="421.89" y1="225" x2="421.89" y2="230.61" stroke="#d82020" stroke-width="1.5"/>
<line x1="423.93" y1="225" x2="423.93" y2="226.06" stroke="#d82020" stroke-width="1.5"/>
<line x1="426.47" y1="225" x2="426.47" y2="230.97" stroke="#d82020" stroke-width="1.5"/>
<line x1="427.81" y1="225" x2="427.81" y2="229.26" stroke="#d82020" stroke-width="1.5"/>
<line x1="429.61" y1="225" x2="429.61" y2="230.72" stroke="#d82020" stroke-width="1.5"/>
<line x1="431.31" y1="225" x2="431.31" y2="227.4" stroke="#d82020" stroke-width="1.5"/>
<line x1="433.29" y1="225" x2="433.29" y2="231.8" stroke="#d82020" stroke-width="1.5"/>
<line x1="434.64" y1="225" x2="434.64" y2="226.69" stroke="#d82020" stroke-width="1.5"/>
<line x1="436.84" y1="225" x2="436.84" y2="231.31" stroke="#d82020" stroke-width="1.5"/>
<line x1="438.86" y1="225" x2="438.86" y2="228.6" stroke="#d82020" stroke-width="1.5"/>
<line x1="441.43" y1="225" x2="441.43" y2="230.66" stroke="#d82020" stroke-width="1.5"/>
<line x1="442.74" y1="225" x2="442.74" y2="231.29" stroke="#d82020" stroke-width="1.5"/>
<line x1="444.25" y1="225" x2="444.25" y2="227.81" stroke="#d82020" stroke-width="1.5"/>
<line x1="446.79" y1="225" x2="446.79" y2="228.53" stroke="#d82020" stroke-width="1.5"/>
<line x1="449.27" y1="225" x2="449.27" y2="227" stroke="#d82020" stroke-width="1.5"/>
<polygon points="375.84,207 376.84,209.88 377.84,211.42 378.84,212.25 379.84,212.69 380.84,212.93 381.84,213.05 382.84,213.12 383.84,213.16 384.84,213.18 385.84,213.19 386.84,213.19 387.84,213.2 388.84,213.2 389.84,213.2 390.84,213.2 391.84,213.2 392.84,213.2 393.84,213.2 394.84,213.2 395.84,213.2 396.84,213.2 397.84,213.2 398.84,213.2 399.84,213.2 400.84,213.2 401.84,213.2 402.84,213.2 403.84,213.2 404.84,213.2 405.84,213.2 406.84,213.2 407.84,213.2 408.84,213.2 409.84,213.2 410.84,213.2 411.84,213.2 412.84,213.2 413.84,213.2 414.84,213.2 415.84,213.2 416.84,213.2 417.84,213.2 418.84,213.2 419.84,213.2 420.84,213.2 421.84,213.2 422.84,213.2 423.84,213.2 424.84,213.2 425.84,213.2 426.84,213.2 427.84,213.2 428.84,213.2 429.84,213.2 430.84,213.2 431.84,213.2 432.84,213.2 433.84,213.2 434.84,213.2 435.84,213.2 436.84,213.2 437.84,213.2 438.84,213.2 439.84,213.2 440.84,213.2 441.84,213.2 442.84,213.2 443.84,213.2 444.84,213.2 445.84,213.2 446.84,213.2 447.84,213.2 448.84,213.2 449.84,213.2 450.84,213.2 451.29,213.2 451.29,219.8 450.84,219.8 449.84,219.8 448.84,219.8 447.84,219.8 446.84,219.8 445.84,219.8 444.84,219.8 443.84,219.8 442.84,219.8 441.84,219.8 440.84,219.8 439.84,219.8 438.84,219.8 437.84,219.8 436.84,219.8 435.84,219.8 434.84,219.8 433.84,219.8 432.84,219.8 431.84,219.8 430.84,219.8 429.84,219.8 428.84,219.8 427.84,219.8 426.84,219.8 425.84,219.8 424.84,219.8 423.84,219.8 422.84,219.8 421.84,219.8 420.84,219.8 419.84,219.8 418.84,219.8 417.84,219.8 416.84,219.8 415.84,219.8 414.84,219.8 413.84,219.8 412.84,219.8 411.84,219.8 410.84,219.8 409.84,219.8 408.84,219.8 407.84,219.8 406.84,219.8 405.84,219.8 404.84,219.8 403.84,219.8 402.84,219.8 401.84,219.8 400.84,219.8 399.84,219.8 398.84,219.8 397.84,219.8 396.84,219.8 395.84,219.8 394.84,219.8 393.84,219.8 392.84,219.8 391.84,219.8 390.84,219.8 389.84,219.8 388.84,219.8 387.84,219.8 386.84,219.81 385.84,219.81 384.84,219.82 383.84,219.84 382.84,219.88 381.84,219.95 380.84,220.07 379.84,220.31 378.84,220.75 377.84,221.58 376.84,223.12 375.84,226" fill="#0a0aff"/>
<polygon points="510.59,205 511.59,205 512.59,205 513.59,205 514.59,205 515.59,205 516.59,205 517.59,205 518.59,205 519.59,205 520.59,205 521.59,205 522.59,205 523.59,205 524.59,205 525.59,205 526.59,205 527.59,205 528.59,205 529.59,205 530.59,205 531.59,205 532.59,205 533.59,205 534.59,205 535.59,205 535.9,205 535.9,228.3 535.59,228.3 534.59,228.3 533.59,228.3 532.59,228.3 531.59,228.3 530.59,228.3 529.59,228.3 528.59,228.3 527.59,228.3 526.59,228.3 525.59,228.3 524.59,228.3 523.59,228.3 522.59,228.3 521.59,228.3 520.59,228.3 519.59,228.3 518.59,228.3 517.59,228.3 516.59,228.3 515.59,228.3 514.59,228.3 513.59,228.3 512.59,228.3 511.59,228.3 510.59,228.3" fill="#ff0a0a"/>
<polygon points="510.59,205 511.59,208.79 512.59,210.97 513.59,212.22 514.59,212.94 515.59,213.35 516.59,213.58 517.59,213.72 518.59,213.8 519.59,213.84 520.59,213.87 521.59,213.88 522.59,213.89 523.59,213.89 524.59,213.9 525.59,213.9 526.59,213.9 527.59,213.9 528.59,213.9 529.59,213.9 530.59,213.9 531.59,213.9 532.59,213.9 533.59,213.9 534.59,213.9 535.59,213.9 535.9,213.9 535.9,221.1 535.59,221.1 534.59,221.1 533.59,221.1 532.59,221.1 531.59,221.1 530.59,221.1 529.59,221.1 528.59,221.1 527.59,221.1 526.59,221.1 525.59,221.1 524.59,221.1 523.59,221.11 522.59,221.11 521.59,221.12 520.59,221.13 519.59,221.16 518.59,221.2 517.59,221.28 516.59,221.42 515.59,221.65 514.59,222.06 513.59,222.78 512.59,224.03 511.59,226.21 510.59,230" fill="#0a0aff"/>
<line x1="88.67" y1="203.2" x2="88.67" y2="207" stroke="#e83020" stroke-width="1.1"/>
<line x1="511.23" y1="202.8" x2="511.23" y2="207" stroke="#e83020" stroke-width="1.1"/>
<polyline points="53.8,227.4 54.52,236.6 87.55,231 88.03,218" fill="none" stroke="#22208e" stroke-width="1.6" stroke-linejoin="round"/>
<polyline points="126.11,218 126.72,193.2 126.96,191.8 128.09,192.12 129.21,192.43 130.34,192.74 131.47,193.04 132.59,193.35 133.72,193.64 134.85,193.94 135.97,194.23 137.1,194.51 138.23,194.79 139.35,195.07 140.48,195.35 141.61,195.62 142.74,195.89 143.86,196.15 144.99,196.41 146.12,196.67 147.24,196.92 148.37,197.17 149.5,197.42 150.62,197.66 151.75,197.91 152.88,198.14 154,198.38 155.13,198.61 156.26,198.84 157.39,199.06 158.51,199.29 159.64,199.51 160.77,199.72 161.89,199.94 163.02,200.15 164.15,200.36 165.27,200.57 166.4,200.77 167.53,200.97 168.65,201.17 169.78,201.36 170.91,201.56 172.04,201.75 173.16,201.93 174.29,202.12 175.42,202.3 176.54,202.48 177.67,202.66 178.8,202.84 179.92,203.01 181.05,203.18 182.18,203.35 183.3,203.52 184.43,203.68 185.56,203.85 186.68,204.01 187.81,204.17 188.94,204.32 190.07,204.48 191.19,204.63 192.32,204.78 193.45,204.93 194.57,205.08 195.78,214" fill="none" stroke="#22208e" stroke-width="1.6" stroke-linejoin="round"/>
<polyline points="222.17,216 222.66,203.6 223.14,204.6 223.5,204.77 224.92,204.95 226.34,205.12 227.75,205.3 229.17,205.47 230.59,205.63 232.01,205.8 233.43,205.96 234.84,206.11 236.26,206.27 237.68,206.42 239.1,206.57 240.52,206.72 241.94,206.87 243.35,207.01 244.77,207.15 246.19,207.29 247.61,207.43 249.03,207.56 250.44,207.69 251.86,207.82 253.28,207.95 254.7,208.08 256.12,208.2 257.54,208.32 258.95,208.44 260.37,208.56 261.79,208.67 263.21,208.79 264.63,208.9 266.04,209.01 267.46,209.12 268.88,209.22 270.3,209.33 271.72,209.43 273.14,209.53 274.55,209.63 275.97,209.73 277.39,209.83 278.81,209.92 280.23,210.02 281.64,210.11 283.06,210.2 284.48,210.29 285.9,210.38 287.32,210.46 288.74,210.55 290.15,210.63 291.57,210.71 292.99,210.79 294.41,210.87 295.83,210.95 297.24,211.03 298.66,211.1 300.08,211.18 301.5,211.25 302.92,211.32 304.34,211.39 305.75,211.46 307.17,211.53 308.59,211.6" fill="none" stroke="#22208e" stroke-width="1.6" stroke-linejoin="round"/>
<polyline points="354.87,216 355.35,230 355.96,248.3 357.28,249.6 375.24,243.6 375.96,206 376.45,212" fill="none" stroke="#22208e" stroke-width="1.6" stroke-linejoin="round"/>
<polyline points="451.29,216 452.14,243 452.98,243.8 510.11,231.4 510.59,216" fill="none" stroke="#22208e" stroke-width="1.6" stroke-linejoin="round"/>
<text x="114.06" y="268.5" text-anchor="middle" class="tk">0.05</text>
<text x="174.32" y="268.5" text-anchor="middle" class="tk">0.1</text>
<text x="234.59" y="268.5" text-anchor="middle" class="tk">0.15</text>
<text x="294.85" y="268.5" text-anchor="middle" class="tk">0.2</text>
<text x="355.11" y="268.5" text-anchor="middle" class="tk">0.25</text>
<text x="415.38" y="268.5" text-anchor="middle" class="tk">0.3</text>
<text x="475.64" y="268.5" text-anchor="middle" class="tk">0.35</text>
<text x="535.9" y="268.5" text-anchor="middle" class="tk">0.4</text>
<text x="50.2" y="195.3" text-anchor="end" class="tk">20</text>
<text x="50.2" y="223.3" text-anchor="end" class="tk">0</text>
<text x="50.2" y="251.3" text-anchor="end" class="tk">−20</text>
<rect x="487.6" y="14" width="46.7" height="28.1" fill="#fff" stroke="#a8a8a8" stroke-width="1.1"/>
<line x1="489.4" y1="18.7" x2="507.2" y2="18.7" stroke="#c43636" stroke-width="1.9"/>
<text x="508.8" y="21.3" class="lg" textLength="13" lengthAdjust="spacingAndGlyphs">PID</text>
<line x1="489.4" y1="28.4" x2="507.2" y2="28.4" stroke="#26249c" stroke-width="1.9"/>
<text x="508.8" y="30.2" class="lg" textLength="22.8" lengthAdjust="spacingAndGlyphs">SMC-w</text>
<line x1="489.4" y1="37.2" x2="507.2" y2="37.2" stroke="#000" stroke-width="1.9"/>
<text x="508.8" y="39.2" class="lg" textLength="16.5" lengthAdjust="spacingAndGlyphs"><tspan font-style="italic" font-size="7px" fill="#555" stroke="none">ω</tspan><tspan font-style="italic" font-size="5.2px" dy="0.6" fill="#666" stroke="none">mref</tspan></text>
<rect x="488.2" y="103.4" width="46.1" height="18.8" fill="#fff" stroke="#a8a8a8" stroke-width="1.1"/>
<line x1="490" y1="108.6" x2="507.5" y2="108.6" stroke="#c43636" stroke-width="1.9"/>
<text x="509.2" y="111" class="lg" textLength="13" lengthAdjust="spacingAndGlyphs">PID</text>
<line x1="490" y1="117.6" x2="507.5" y2="117.6" stroke="#26249c" stroke-width="1.9"/>
<text x="509.2" y="119.5" class="lg" textLength="22.8" lengthAdjust="spacingAndGlyphs">SMC-w</text>
<rect x="242.2" y="228.9" width="46.8" height="19.6" fill="#fff" stroke="#a8a8a8" stroke-width="1.1"/>
<line x1="244.2" y1="234" x2="261.7" y2="234" stroke="#c43636" stroke-width="1.9"/>
<text x="263.4" y="236.9" class="lg" textLength="13" lengthAdjust="spacingAndGlyphs">PID</text>
<line x1="244.2" y1="243.4" x2="261.7" y2="243.4" stroke="#26249c" stroke-width="1.9"/>
<text x="263.4" y="245.9" class="lg" textLength="22.8" lengthAdjust="spacingAndGlyphs">SMC-w</text>
<text transform="translate(19.1,71.9) rotate(-90)" class="lx"><tspan x="-0.19" font-style="italic" font-size="13.3px">ω</tspan><tspan x="10.61" dy="1.6" font-style="italic" font-size="9.4px">m</tspan><tspan x="16.65" dy="-0.9" font-size="16.2px">[</tspan><tspan x="22.35 28.6 34.78" dy="-0.7" font-style="italic" font-size="13px">rad</tspan><tspan x="41.82" dy="2.2" font-size="20px">/</tspan><tspan x="48.42" dy="-2.2" font-style="italic" font-size="13px">s</tspan><tspan x="51.95" dy="0.7" font-size="16.2px">]</tspan></text>
<text transform="translate(20,132.2) rotate(-90)" text-anchor="middle" class="ly" textLength="52" lengthAdjust="spacingAndGlyphs">Error [%]</text>
<text transform="translate(26.2,234) rotate(-90)" class="lx"><tspan x="0.74" font-style="italic" font-size="13px">i</tspan><tspan x="4.3" dy="2.3" font-style="italic" font-size="9.4px">a</tspan><tspan x="9.3" dy="-2" font-size="16.2px">[</tspan><tspan x="14.36" dy="-0.3" font-style="italic" font-size="13px">A</tspan><tspan x="21.1" dy="0.3" font-size="16.2px">]</tspan></text>
<text x="0" y="282.2" class="lx"><tspan x="272.74 282.22 286.53 297.35" font-style="italic" font-size="13.5px">Time</tspan><tspan x="303.8" dy="1.3" font-size="16.2px">[</tspan><tspan x="307.87" dy="-1.3" font-style="italic" font-size="13.5px">s</tspan><tspan x="312.85" dy="1.3" font-size="16.2px">]</tspan></text>
</svg></body></html>
